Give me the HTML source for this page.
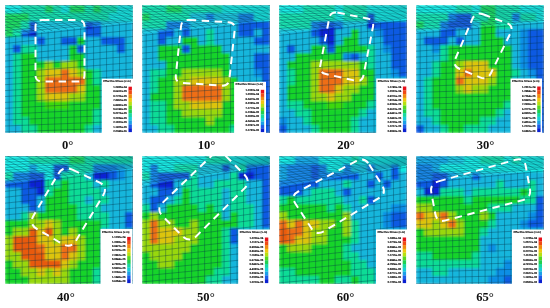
<!DOCTYPE html>
<html><head><meta charset="utf-8"><title>Effective stress contours</title>
<style>
html,body{margin:0;padding:0;background:#fff;}
body{width:550px;height:308px;position:relative;overflow:hidden;}
.pn{position:absolute;display:block;text-rendering:geometricPrecision;}
.lab{position:absolute;font-family:"Liberation Serif",serif;font-weight:bold;font-size:12.6px;line-height:13px;color:#111;text-align:center;width:60px;}
.lt{font-family:"Liberation Sans",sans-serif;font-size:2.7px;font-weight:bold;fill:#111;stroke:#111;stroke-width:0.12px;}
.lv{font-family:"Liberation Sans",sans-serif;font-size:2.7px;font-weight:bold;fill:#111;stroke:#111;stroke-width:0.12px;text-anchor:end;}
</style></head><body>
<svg width="0" height="0" style="position:absolute"><defs>
<filter id="bl" x="0" y="0" width="1" height="1"><feGaussianBlur stdDeviation="1.3" edgeMode="duplicate"/></filter>
</defs></svg>

<svg class="pn" style="left:5px;top:5px" width="128" height="128" viewBox="0 0 128 128">
<g filter="url(#bl)">
<rect x="0" y="0" width="16" height="8" fill="#0ce8e0"/>
<rect x="16" y="0" width="24" height="8" fill="#0cdc96"/>
<rect x="40" y="0" width="8" height="8" fill="#14d42c"/>
<rect x="48" y="0" width="8" height="8" fill="#0cdc96"/>
<rect x="56" y="0" width="8" height="8" fill="#0ce8e0"/>
<rect x="64" y="0" width="16" height="8" fill="#14d42c"/>
<rect x="80" y="0" width="8" height="8" fill="#0cdc96"/>
<rect x="88" y="0" width="8" height="8" fill="#14d42c"/>
<rect x="96" y="0" width="16" height="8" fill="#0cdc96"/>
<rect x="112" y="0" width="16" height="8" fill="#0ce8e0"/>
<rect x="0" y="8" width="24" height="8" fill="#14d42c"/>
<rect x="24" y="8" width="80" height="8" fill="#0cdc96"/>
<rect x="104" y="8" width="24" height="8" fill="#0ce8e0"/>
<rect x="0" y="16" width="16" height="8" fill="#14d42c"/>
<rect x="16" y="16" width="8" height="8" fill="#0cdc96"/>
<rect x="24" y="16" width="8" height="8" fill="#0a22d4"/>
<rect x="32" y="16" width="48" height="8" fill="#14b6dc"/>
<rect x="80" y="16" width="8" height="8" fill="#0a22d4"/>
<rect x="88" y="16" width="8" height="8" fill="#0c5ae2"/>
<rect x="96" y="16" width="32" height="8" fill="#14b6dc"/>
<rect x="0" y="24" width="8" height="8" fill="#14d42c"/>
<rect x="8" y="24" width="8" height="8" fill="#0cdc96"/>
<rect x="16" y="24" width="8" height="8" fill="#0c5ae2"/>
<rect x="24" y="24" width="8" height="8" fill="#0a22d4"/>
<rect x="32" y="24" width="48" height="8" fill="#14b6dc"/>
<rect x="80" y="24" width="16" height="8" fill="#0c5ae2"/>
<rect x="96" y="24" width="32" height="8" fill="#14b6dc"/>
<rect x="0" y="32" width="32" height="8" fill="#14b6dc"/>
<rect x="32" y="32" width="8" height="8" fill="#0c5ae2"/>
<rect x="40" y="32" width="16" height="8" fill="#14b6dc"/>
<rect x="56" y="32" width="16" height="8" fill="#0c5ae2"/>
<rect x="72" y="32" width="8" height="8" fill="#14d42c"/>
<rect x="80" y="32" width="16" height="8" fill="#14b6dc"/>
<rect x="96" y="32" width="24" height="8" fill="#0c5ae2"/>
<rect x="120" y="32" width="8" height="8" fill="#14b6dc"/>
<rect x="0" y="40" width="8" height="8" fill="#14b6dc"/>
<rect x="8" y="40" width="8" height="8" fill="#0c5ae2"/>
<rect x="16" y="40" width="16" height="8" fill="#0cdc96"/>
<rect x="32" y="40" width="32" height="8" fill="#14b6dc"/>
<rect x="64" y="40" width="8" height="8" fill="#14d42c"/>
<rect x="72" y="40" width="8" height="8" fill="#0c5ae2"/>
<rect x="80" y="40" width="32" height="8" fill="#14b6dc"/>
<rect x="112" y="40" width="8" height="8" fill="#0c5ae2"/>
<rect x="120" y="40" width="8" height="8" fill="#14b6dc"/>
<rect x="0" y="48" width="8" height="8" fill="#14b6dc"/>
<rect x="8" y="48" width="8" height="8" fill="#0cdc96"/>
<rect x="16" y="48" width="16" height="8" fill="#14d42c"/>
<rect x="32" y="48" width="32" height="8" fill="#14b6dc"/>
<rect x="64" y="48" width="16" height="8" fill="#14d42c"/>
<rect x="80" y="48" width="48" height="8" fill="#14b6dc"/>
<rect x="0" y="56" width="8" height="8" fill="#14b6dc"/>
<rect x="8" y="56" width="8" height="8" fill="#0cdc96"/>
<rect x="16" y="56" width="24" height="8" fill="#14d42c"/>
<rect x="40" y="56" width="8" height="8" fill="#98d810"/>
<rect x="48" y="56" width="8" height="8" fill="#14d42c"/>
<rect x="56" y="56" width="16" height="8" fill="#98d810"/>
<rect x="72" y="56" width="8" height="8" fill="#14d42c"/>
<rect x="80" y="56" width="48" height="8" fill="#14b6dc"/>
<rect x="0" y="64" width="8" height="8" fill="#14b6dc"/>
<rect x="8" y="64" width="8" height="8" fill="#0cdc96"/>
<rect x="16" y="64" width="16" height="8" fill="#14d42c"/>
<rect x="32" y="64" width="8" height="8" fill="#98d810"/>
<rect x="40" y="64" width="16" height="8" fill="#dcc40c"/>
<rect x="56" y="64" width="8" height="8" fill="#ee6e12"/>
<rect x="64" y="64" width="8" height="8" fill="#dcc40c"/>
<rect x="72" y="64" width="8" height="8" fill="#98d810"/>
<rect x="80" y="64" width="8" height="8" fill="#14d42c"/>
<rect x="88" y="64" width="8" height="8" fill="#0cdc96"/>
<rect x="96" y="64" width="32" height="8" fill="#14b6dc"/>
<rect x="0" y="72" width="8" height="8" fill="#14b6dc"/>
<rect x="8" y="72" width="8" height="8" fill="#0cdc96"/>
<rect x="16" y="72" width="16" height="8" fill="#14d42c"/>
<rect x="32" y="72" width="8" height="8" fill="#98d810"/>
<rect x="40" y="72" width="40" height="8" fill="#ee6e12"/>
<rect x="80" y="72" width="8" height="8" fill="#14d42c"/>
<rect x="88" y="72" width="8" height="8" fill="#0cdc96"/>
<rect x="96" y="72" width="32" height="8" fill="#14b6dc"/>
<rect x="0" y="80" width="8" height="8" fill="#14b6dc"/>
<rect x="8" y="80" width="8" height="8" fill="#0cdc96"/>
<rect x="16" y="80" width="16" height="8" fill="#14d42c"/>
<rect x="32" y="80" width="8" height="8" fill="#98d810"/>
<rect x="40" y="80" width="32" height="8" fill="#ee6e12"/>
<rect x="72" y="80" width="8" height="8" fill="#dcc40c"/>
<rect x="80" y="80" width="16" height="8" fill="#14d42c"/>
<rect x="96" y="80" width="32" height="8" fill="#14b6dc"/>
<rect x="0" y="88" width="8" height="8" fill="#14b6dc"/>
<rect x="8" y="88" width="8" height="8" fill="#0cdc96"/>
<rect x="16" y="88" width="16" height="8" fill="#14d42c"/>
<rect x="32" y="88" width="8" height="8" fill="#98d810"/>
<rect x="40" y="88" width="24" height="8" fill="#dcc40c"/>
<rect x="64" y="88" width="16" height="8" fill="#98d810"/>
<rect x="80" y="88" width="16" height="8" fill="#14d42c"/>
<rect x="96" y="88" width="32" height="8" fill="#14b6dc"/>
<rect x="0" y="96" width="8" height="8" fill="#14b6dc"/>
<rect x="8" y="96" width="8" height="8" fill="#0cdc96"/>
<rect x="16" y="96" width="24" height="8" fill="#14d42c"/>
<rect x="40" y="96" width="24" height="8" fill="#3cd810"/>
<rect x="64" y="96" width="32" height="8" fill="#14d42c"/>
<rect x="96" y="96" width="32" height="8" fill="#14b6dc"/>
<rect x="0" y="104" width="8" height="8" fill="#14b6dc"/>
<rect x="8" y="104" width="8" height="8" fill="#0cdc96"/>
<rect x="16" y="104" width="72" height="8" fill="#14d42c"/>
<rect x="88" y="104" width="8" height="8" fill="#0cdc96"/>
<rect x="96" y="104" width="32" height="8" fill="#14b6dc"/>
<rect x="0" y="112" width="8" height="8" fill="#14b6dc"/>
<rect x="8" y="112" width="16" height="8" fill="#0cdc96"/>
<rect x="24" y="112" width="64" height="8" fill="#14d42c"/>
<rect x="88" y="112" width="8" height="8" fill="#0cdc96"/>
<rect x="96" y="112" width="32" height="8" fill="#14b6dc"/>
<rect x="0" y="120" width="16" height="8" fill="#14b6dc"/>
<rect x="16" y="120" width="16" height="8" fill="#0cdc96"/>
<rect x="32" y="120" width="48" height="8" fill="#14d42c"/>
<rect x="80" y="120" width="8" height="8" fill="#0cdc96"/>
<rect x="88" y="120" width="40" height="8" fill="#14b6dc"/>
</g>
<clipPath id="tc0"><path d="M0 0H128V17.50L0 31.00Z"/></clipPath>
<clipPath id="fc0"><path d="M0 31.00L128 17.50V128H0Z"/></clipPath>
<rect x="0" y="0" width="128" height="128" fill="#40fff8" fill-opacity="0.28" clip-path="url(#tc0)"/>
<g stroke="#003048" stroke-opacity="0.5" stroke-width="0.7" fill="none">
<path d="M4.20 29.56V128M10.69 28.87V128M17.18 28.19V128M23.67 27.50V128M30.16 26.82V128M36.65 26.13V128M43.14 25.45V128M49.63 24.77V128M56.12 24.08V128M62.61 23.40V128M69.10 22.71V128M75.59 22.03V128M82.08 21.34V128M88.57 20.66V128M95.06 19.97V128M101.55 19.29V128M108.04 18.61V128M114.53 17.92V128M121.02 17.24V128M127.51 16.55V128M0 32.50L128 18.50M0 38.40L128 25.00M0 44.30L128 31.50M0 50.20L128 38.00M0 56.10L128 44.50M0 62.00L128 51.00M0 67.90L128 57.50M0 73.80L128 64.00M0 79.70L128 70.50M0 85.60L128 77.00M0 91.50L128 83.50M0 97.40L128 90.00M0 103.30L128 96.50M0 109.20L128 103.00M0 115.10L128 109.50M0 121.00L128 116.00M0 126.90L128 122.50M0 132.80L128 129.00" clip-path="url(#fc0)"/>
<path d="M0 28.25L128 15.95M0 25.50L128 14.40M0 22.75L128 12.84M0 20.00L128 11.29M0 17.25L128 9.74M0 14.50L128 8.19M0 11.75L128 6.63M0 9.00L128 5.08M0 6.25L128 3.53M0 3.50L128 1.98M0 0.75L128 0.42M-80.00 39.44L-150.00 4.44M-72.50 38.65L-142.50 3.65M-65.00 37.86L-135.00 2.86M-57.50 37.06L-127.50 2.06M-50.00 36.27L-120.00 1.27M-42.50 35.48L-112.50 0.48M-35.00 34.69L-105.00 -0.31M-27.50 33.90L-97.50 -1.10M-20.00 33.11L-90.00 -1.89M-12.50 32.32L-82.50 -2.68M-5.00 31.53L-75.00 -3.47M2.50 30.74L-67.50 -4.26M10.00 29.95L-60.00 -5.05M17.50 29.15L-52.50 -5.85M25.00 28.36L-45.00 -6.64M32.50 27.57L-37.50 -7.43M40.00 26.78L-30.00 -8.22M47.50 25.99L-22.50 -9.01M55.00 25.20L-15.00 -9.80M62.50 24.41L-7.50 -10.59M70.00 23.62L0.00 -11.38M77.50 22.83L7.50 -12.17M85.00 22.04L15.00 -12.96M92.50 21.24L22.50 -13.76M100.00 20.45L30.00 -14.55M107.50 19.66L37.50 -15.34M115.00 18.87L45.00 -16.13M122.50 18.08L52.50 -16.92M130.00 17.29L60.00 -17.71M137.50 16.50L67.50 -18.50M145.00 15.71L75.00 -19.29M152.50 14.92L82.50 -20.08M160.00 14.12L90.00 -20.88M167.50 13.33L97.50 -21.67" clip-path="url(#tc0)" stroke-opacity="0.6" stroke-width="0.55"/>
</g>
<path d="M37.0 15.0 L73.0 15.0 Q79.5 15.0 79.5 21.5 L79.5 70.0 Q79.5 76.5 73.0 76.5 L37.0 76.5 Q30.5 76.5 30.5 70.0 L30.5 21.5 Q30.5 15.0 37.0 15.0 Z" fill="none" stroke="#fff" stroke-width="2" stroke-dasharray="7.5 5.5"/>
<rect x="96.8" y="73.7" width="31.2" height="54.3" fill="#fff"/>
<text x="98.3" y="77.3" class="lt">Effective Stress (v-m)</text>
<text x="121.8" y="82.9" class="lv">1.2985e-04</text>
<text x="121.8" y="87.3" class="lv">9.6412e-05</text>
<text x="121.8" y="91.7" class="lv">8.7706e-05</text>
<text x="121.8" y="96.1" class="lv">7.8963e-05</text>
<text x="121.8" y="100.5" class="lv">6.9992e-05</text>
<text x="121.8" y="104.9" class="lv">5.6749e-05</text>
<text x="121.8" y="109.3" class="lv">5.0276e-05</text>
<text x="121.8" y="113.7" class="lv">3.2284e-05</text>
<text x="121.8" y="118.1" class="lv">2.1830e-05</text>
<text x="121.8" y="122.5" class="lv">1.1905e-05</text>
<text x="121.8" y="126.9" class="lv">2.0048e-06</text>
<rect x="123.5" y="81.70" width="3.4" height="3.88" fill="#e8101a"/>
<rect x="123.5" y="85.48" width="3.4" height="3.88" fill="#f04a14"/>
<rect x="123.5" y="89.25" width="3.4" height="3.88" fill="#f08a10"/>
<rect x="123.5" y="93.03" width="3.4" height="3.88" fill="#f0c810"/>
<rect x="123.5" y="96.80" width="3.4" height="3.88" fill="#b8e010"/>
<rect x="123.5" y="100.58" width="3.4" height="3.88" fill="#58d820"/>
<rect x="123.5" y="104.35" width="3.4" height="3.88" fill="#20d050"/>
<rect x="123.5" y="108.12" width="3.4" height="3.88" fill="#18d8a0"/>
<rect x="123.5" y="111.90" width="3.4" height="3.88" fill="#18d0d8"/>
<rect x="123.5" y="115.68" width="3.4" height="3.88" fill="#1aa0e8"/>
<rect x="123.5" y="119.45" width="3.4" height="3.88" fill="#1a5ee8"/>
<rect x="123.5" y="123.22" width="3.4" height="3.88" fill="#0a20d0"/>
</svg>
<svg class="pn" style="left:142px;top:5px" width="128" height="128" viewBox="0 0 128 128">
<g filter="url(#bl)">
<rect x="0" y="0" width="24" height="8" fill="#0cdc96"/>
<rect x="24" y="0" width="16" height="8" fill="#14d42c"/>
<rect x="40" y="0" width="40" height="8" fill="#0cdc96"/>
<rect x="80" y="0" width="48" height="8" fill="#0ce8e0"/>
<rect x="0" y="8" width="8" height="8" fill="#14d42c"/>
<rect x="8" y="8" width="40" height="8" fill="#0cdc96"/>
<rect x="48" y="8" width="16" height="8" fill="#14b6dc"/>
<rect x="64" y="8" width="8" height="8" fill="#0c5ae2"/>
<rect x="72" y="8" width="24" height="8" fill="#14b6dc"/>
<rect x="96" y="8" width="16" height="8" fill="#0c5ae2"/>
<rect x="112" y="8" width="16" height="8" fill="#0ce8e0"/>
<rect x="0" y="16" width="24" height="8" fill="#0cdc96"/>
<rect x="24" y="16" width="24" height="8" fill="#0c5ae2"/>
<rect x="48" y="16" width="48" height="8" fill="#14b6dc"/>
<rect x="96" y="16" width="32" height="8" fill="#0c5ae2"/>
<rect x="0" y="24" width="16" height="8" fill="#14b6dc"/>
<rect x="16" y="24" width="16" height="8" fill="#0c5ae2"/>
<rect x="32" y="24" width="8" height="8" fill="#14b6dc"/>
<rect x="40" y="24" width="8" height="8" fill="#0c5ae2"/>
<rect x="48" y="24" width="16" height="8" fill="#14b6dc"/>
<rect x="64" y="24" width="8" height="8" fill="#0cdc96"/>
<rect x="72" y="24" width="24" height="8" fill="#14b6dc"/>
<rect x="96" y="24" width="16" height="8" fill="#0c5ae2"/>
<rect x="112" y="24" width="8" height="8" fill="#14b6dc"/>
<rect x="120" y="24" width="8" height="8" fill="#0c5ae2"/>
<rect x="0" y="32" width="16" height="8" fill="#14b6dc"/>
<rect x="16" y="32" width="8" height="8" fill="#0c5ae2"/>
<rect x="24" y="32" width="16" height="8" fill="#14b6dc"/>
<rect x="40" y="32" width="16" height="8" fill="#14d42c"/>
<rect x="56" y="32" width="8" height="8" fill="#14b6dc"/>
<rect x="64" y="32" width="8" height="8" fill="#0cdc96"/>
<rect x="72" y="32" width="40" height="8" fill="#14b6dc"/>
<rect x="112" y="32" width="16" height="8" fill="#0c5ae2"/>
<rect x="0" y="40" width="16" height="8" fill="#14b6dc"/>
<rect x="16" y="40" width="24" height="8" fill="#14d42c"/>
<rect x="40" y="40" width="8" height="8" fill="#0c5ae2"/>
<rect x="48" y="40" width="32" height="8" fill="#14d42c"/>
<rect x="80" y="40" width="48" height="8" fill="#14b6dc"/>
<rect x="0" y="48" width="16" height="8" fill="#14b6dc"/>
<rect x="16" y="48" width="72" height="8" fill="#14d42c"/>
<rect x="88" y="48" width="24" height="8" fill="#14b6dc"/>
<rect x="112" y="48" width="16" height="8" fill="#0c5ae2"/>
<rect x="0" y="56" width="24" height="8" fill="#14b6dc"/>
<rect x="24" y="56" width="64" height="8" fill="#14d42c"/>
<rect x="88" y="56" width="24" height="8" fill="#14b6dc"/>
<rect x="112" y="56" width="16" height="8" fill="#0c5ae2"/>
<rect x="0" y="64" width="8" height="8" fill="#14b6dc"/>
<rect x="8" y="64" width="16" height="8" fill="#0cdc96"/>
<rect x="24" y="64" width="16" height="8" fill="#14d42c"/>
<rect x="40" y="64" width="40" height="8" fill="#98d810"/>
<rect x="80" y="64" width="8" height="8" fill="#14d42c"/>
<rect x="88" y="64" width="24" height="8" fill="#14b6dc"/>
<rect x="112" y="64" width="8" height="8" fill="#0c8ee4"/>
<rect x="120" y="64" width="8" height="8" fill="#0c5ae2"/>
<rect x="0" y="72" width="8" height="8" fill="#14b6dc"/>
<rect x="8" y="72" width="8" height="8" fill="#0cdc96"/>
<rect x="16" y="72" width="16" height="8" fill="#14d42c"/>
<rect x="32" y="72" width="16" height="8" fill="#98d810"/>
<rect x="48" y="72" width="32" height="8" fill="#dcc40c"/>
<rect x="80" y="72" width="8" height="8" fill="#98d810"/>
<rect x="88" y="72" width="8" height="8" fill="#14d42c"/>
<rect x="96" y="72" width="24" height="8" fill="#14b6dc"/>
<rect x="120" y="72" width="8" height="8" fill="#0c5ae2"/>
<rect x="0" y="80" width="8" height="8" fill="#14b6dc"/>
<rect x="8" y="80" width="8" height="8" fill="#0cdc96"/>
<rect x="16" y="80" width="16" height="8" fill="#14d42c"/>
<rect x="32" y="80" width="8" height="8" fill="#98d810"/>
<rect x="40" y="80" width="40" height="8" fill="#ee6e12"/>
<rect x="80" y="80" width="8" height="8" fill="#98d810"/>
<rect x="88" y="80" width="8" height="8" fill="#14d42c"/>
<rect x="96" y="80" width="24" height="8" fill="#14b6dc"/>
<rect x="120" y="80" width="8" height="8" fill="#0c5ae2"/>
<rect x="0" y="88" width="8" height="8" fill="#14b6dc"/>
<rect x="8" y="88" width="24" height="8" fill="#14d42c"/>
<rect x="32" y="88" width="8" height="8" fill="#98d810"/>
<rect x="40" y="88" width="40" height="8" fill="#ee6e12"/>
<rect x="80" y="88" width="8" height="8" fill="#98d810"/>
<rect x="88" y="88" width="8" height="8" fill="#14d42c"/>
<rect x="96" y="88" width="24" height="8" fill="#14b6dc"/>
<rect x="120" y="88" width="8" height="8" fill="#0c5ae2"/>
<rect x="0" y="96" width="8" height="8" fill="#14b6dc"/>
<rect x="8" y="96" width="16" height="8" fill="#0cdc96"/>
<rect x="24" y="96" width="8" height="8" fill="#14d42c"/>
<rect x="32" y="96" width="16" height="8" fill="#98d810"/>
<rect x="48" y="96" width="32" height="8" fill="#dcc40c"/>
<rect x="80" y="96" width="16" height="8" fill="#14d42c"/>
<rect x="96" y="96" width="24" height="8" fill="#14b6dc"/>
<rect x="120" y="96" width="8" height="8" fill="#0c5ae2"/>
<rect x="0" y="104" width="8" height="8" fill="#14b6dc"/>
<rect x="8" y="104" width="16" height="8" fill="#0cdc96"/>
<rect x="24" y="104" width="16" height="8" fill="#14d42c"/>
<rect x="40" y="104" width="40" height="8" fill="#98d810"/>
<rect x="80" y="104" width="16" height="8" fill="#14d42c"/>
<rect x="96" y="104" width="24" height="8" fill="#14b6dc"/>
<rect x="120" y="104" width="8" height="8" fill="#0c5ae2"/>
<rect x="0" y="112" width="8" height="8" fill="#14b6dc"/>
<rect x="8" y="112" width="16" height="8" fill="#0cdc96"/>
<rect x="24" y="112" width="40" height="8" fill="#14d42c"/>
<rect x="64" y="112" width="8" height="8" fill="#98d810"/>
<rect x="72" y="112" width="24" height="8" fill="#14d42c"/>
<rect x="96" y="112" width="24" height="8" fill="#14b6dc"/>
<rect x="120" y="112" width="8" height="8" fill="#0c5ae2"/>
<rect x="0" y="120" width="16" height="8" fill="#14b6dc"/>
<rect x="16" y="120" width="16" height="8" fill="#0cdc96"/>
<rect x="32" y="120" width="56" height="8" fill="#14d42c"/>
<rect x="88" y="120" width="8" height="8" fill="#0cdc96"/>
<rect x="96" y="120" width="24" height="8" fill="#14b6dc"/>
<rect x="120" y="120" width="8" height="8" fill="#0c5ae2"/>
</g>
<clipPath id="tc1"><path d="M0 0H128V15.60L0 29.00Z"/></clipPath>
<clipPath id="fc1"><path d="M0 29.00L128 15.60V128H0Z"/></clipPath>
<rect x="0" y="0" width="128" height="128" fill="#40fff8" fill-opacity="0.28" clip-path="url(#tc1)"/>
<g stroke="#003048" stroke-opacity="0.5" stroke-width="0.7" fill="none">
<path d="M4.20 27.56V128M10.69 26.88V128M17.18 26.20V128M23.67 25.52V128M30.16 24.84V128M36.65 24.16V128M43.14 23.48V128M49.63 22.80V128M56.12 22.12V128M62.61 21.45V128M69.10 20.77V128M75.59 20.09V128M82.08 19.41V128M88.57 18.73V128M95.06 18.05V128M101.55 17.37V128M108.04 16.69V128M114.53 16.01V128M121.02 15.33V128M127.51 14.65V128M0 30.50L128 16.60M0 36.40L128 23.10M0 42.30L128 29.60M0 48.20L128 36.10M0 54.10L128 42.60M0 60.00L128 49.10M0 65.90L128 55.60M0 71.80L128 62.10M0 77.70L128 68.60M0 83.60L128 75.10M0 89.50L128 81.60M0 95.40L128 88.10M0 101.30L128 94.60M0 107.20L128 101.10M0 113.10L128 107.60M0 119.00L128 114.10M0 124.90L128 120.60M0 130.80L128 127.10" clip-path="url(#fc1)"/>
<path d="M0 26.25L128 14.12M0 23.50L128 12.64M0 20.75L128 11.16M0 18.00L128 9.68M0 15.25L128 8.20M0 12.50L128 6.72M0 9.75L128 5.24M0 7.00L128 3.77M0 4.25L128 2.29M0 1.50L128 0.81M0 -1.25L128 -0.67M-80.00 37.38L-150.00 2.38M-72.50 36.59L-142.50 1.59M-65.00 35.80L-135.00 0.80M-57.50 35.02L-127.50 0.02M-50.00 34.23L-120.00 -0.77M-42.50 33.45L-112.50 -1.55M-35.00 32.66L-105.00 -2.34M-27.50 31.88L-97.50 -3.12M-20.00 31.09L-90.00 -3.91M-12.50 30.31L-82.50 -4.69M-5.00 29.52L-75.00 -5.48M2.50 28.74L-67.50 -6.26M10.00 27.95L-60.00 -7.05M17.50 27.17L-52.50 -7.83M25.00 26.38L-45.00 -8.62M32.50 25.60L-37.50 -9.40M40.00 24.81L-30.00 -10.19M47.50 24.03L-22.50 -10.97M55.00 23.24L-15.00 -11.76M62.50 22.46L-7.50 -12.54M70.00 21.67L0.00 -13.33M77.50 20.89L7.50 -14.11M85.00 20.10L15.00 -14.90M92.50 19.32L22.50 -15.68M100.00 18.53L30.00 -16.47M107.50 17.75L37.50 -17.25M115.00 16.96L45.00 -18.04M122.50 16.18L52.50 -18.82M130.00 15.39L60.00 -19.61M137.50 14.61L67.50 -20.39M145.00 13.82L75.00 -21.18M152.50 13.04L82.50 -21.96M160.00 12.25L90.00 -22.75M167.50 11.46L97.50 -23.54" clip-path="url(#tc1)" stroke-opacity="0.6" stroke-width="0.55"/>
</g>
<path d="M46.7 14.9 L86.4 17.2 Q93.4 17.6 92.7 24.6 L87.4 74.1 Q86.7 81.1 79.7 80.6 L40.1 77.9 Q33.1 77.4 33.8 70.4 L39.0 21.5 Q39.7 14.5 46.7 14.9 Z" fill="none" stroke="#fff" stroke-width="2" stroke-dasharray="7.5 5.5"/>
<rect x="92.1" y="76.8" width="31.9" height="51.2" fill="#fff"/>
<text x="93.6" y="80.4" class="lt">Effective Stress (v-m)</text>
<text x="117.1" y="86.0" class="lv">1.1330e-04</text>
<text x="117.1" y="90.4" class="lv">1.0308e-04</text>
<text x="117.1" y="94.8" class="lv">9.2473e-05</text>
<text x="117.1" y="99.2" class="lv">8.2085e-05</text>
<text x="117.1" y="103.6" class="lv">7.1770e-05</text>
<text x="117.1" y="108.0" class="lv">6.1384e-05</text>
<text x="117.1" y="112.4" class="lv">5.0825e-05</text>
<text x="117.1" y="116.8" class="lv">4.0414e-05</text>
<text x="117.1" y="121.2" class="lv">3.0097e-05</text>
<text x="117.1" y="125.6" class="lv">2.1783e-05</text>
<text x="117.1" y="130.0" class="lv">1.1904e-05</text>
<rect x="118.8" y="84.80" width="3.4" height="3.62" fill="#e8101a"/>
<rect x="118.8" y="88.32" width="3.4" height="3.62" fill="#f04a14"/>
<rect x="118.8" y="91.83" width="3.4" height="3.62" fill="#f08a10"/>
<rect x="118.8" y="95.35" width="3.4" height="3.62" fill="#f0c810"/>
<rect x="118.8" y="98.87" width="3.4" height="3.62" fill="#b8e010"/>
<rect x="118.8" y="102.38" width="3.4" height="3.62" fill="#58d820"/>
<rect x="118.8" y="105.90" width="3.4" height="3.62" fill="#20d050"/>
<rect x="118.8" y="109.42" width="3.4" height="3.62" fill="#18d8a0"/>
<rect x="118.8" y="112.93" width="3.4" height="3.62" fill="#18d0d8"/>
<rect x="118.8" y="116.45" width="3.4" height="3.62" fill="#1aa0e8"/>
<rect x="118.8" y="119.97" width="3.4" height="3.62" fill="#1a5ee8"/>
<rect x="118.8" y="123.48" width="3.4" height="3.62" fill="#0a20d0"/>
</svg>
<svg class="pn" style="left:279px;top:5px" width="128" height="128" viewBox="0 0 128 128">
<g filter="url(#bl)">
<rect x="0" y="0" width="24" height="8" fill="#0ce8e0"/>
<rect x="24" y="0" width="32" height="8" fill="#0cdc96"/>
<rect x="56" y="0" width="8" height="8" fill="#0ce8e0"/>
<rect x="64" y="0" width="24" height="8" fill="#0cdc96"/>
<rect x="88" y="0" width="40" height="8" fill="#0ce8e0"/>
<rect x="0" y="8" width="56" height="8" fill="#0cdc96"/>
<rect x="56" y="8" width="8" height="8" fill="#0ce8e0"/>
<rect x="64" y="8" width="24" height="8" fill="#0cdc96"/>
<rect x="88" y="8" width="8" height="8" fill="#0a22d4"/>
<rect x="96" y="8" width="32" height="8" fill="#0ce8e0"/>
<rect x="0" y="16" width="32" height="8" fill="#0cdc96"/>
<rect x="32" y="16" width="8" height="8" fill="#0c5ae2"/>
<rect x="40" y="16" width="16" height="8" fill="#0a22d4"/>
<rect x="56" y="16" width="8" height="8" fill="#0c5ae2"/>
<rect x="64" y="16" width="24" height="8" fill="#14b6dc"/>
<rect x="88" y="16" width="8" height="8" fill="#0a22d4"/>
<rect x="96" y="16" width="32" height="8" fill="#0c5ae2"/>
<rect x="0" y="24" width="32" height="8" fill="#14b6dc"/>
<rect x="32" y="24" width="8" height="8" fill="#0c5ae2"/>
<rect x="40" y="24" width="16" height="8" fill="#0a22d4"/>
<rect x="56" y="24" width="16" height="8" fill="#14b6dc"/>
<rect x="72" y="24" width="8" height="8" fill="#14d42c"/>
<rect x="80" y="24" width="16" height="8" fill="#14b6dc"/>
<rect x="96" y="24" width="8" height="8" fill="#0c8ee4"/>
<rect x="104" y="24" width="24" height="8" fill="#0c5ae2"/>
<rect x="0" y="32" width="40" height="8" fill="#14b6dc"/>
<rect x="40" y="32" width="8" height="8" fill="#0c5ae2"/>
<rect x="48" y="32" width="8" height="8" fill="#0a22d4"/>
<rect x="56" y="32" width="8" height="8" fill="#14b6dc"/>
<rect x="64" y="32" width="16" height="8" fill="#14d42c"/>
<rect x="80" y="32" width="24" height="8" fill="#14b6dc"/>
<rect x="104" y="32" width="24" height="8" fill="#0c5ae2"/>
<rect x="0" y="40" width="8" height="8" fill="#14b6dc"/>
<rect x="8" y="40" width="8" height="8" fill="#0c5ae2"/>
<rect x="16" y="40" width="16" height="8" fill="#14b6dc"/>
<rect x="32" y="40" width="16" height="8" fill="#14d42c"/>
<rect x="48" y="40" width="8" height="8" fill="#0c5ae2"/>
<rect x="56" y="40" width="32" height="8" fill="#14d42c"/>
<rect x="88" y="40" width="8" height="8" fill="#0cdc96"/>
<rect x="96" y="40" width="8" height="8" fill="#14b6dc"/>
<rect x="104" y="40" width="8" height="8" fill="#0c8ee4"/>
<rect x="112" y="40" width="16" height="8" fill="#0c5ae2"/>
<rect x="0" y="48" width="16" height="8" fill="#14b6dc"/>
<rect x="16" y="48" width="48" height="8" fill="#14d42c"/>
<rect x="64" y="48" width="8" height="8" fill="#0c8ee4"/>
<rect x="72" y="48" width="8" height="8" fill="#0c5ae2"/>
<rect x="80" y="48" width="8" height="8" fill="#14b6dc"/>
<rect x="88" y="48" width="8" height="8" fill="#0cdc96"/>
<rect x="96" y="48" width="16" height="8" fill="#14b6dc"/>
<rect x="112" y="48" width="16" height="8" fill="#0c5ae2"/>
<rect x="0" y="56" width="8" height="8" fill="#14b6dc"/>
<rect x="8" y="56" width="24" height="8" fill="#14d42c"/>
<rect x="32" y="56" width="48" height="8" fill="#98d810"/>
<rect x="80" y="56" width="8" height="8" fill="#14d42c"/>
<rect x="88" y="56" width="8" height="8" fill="#0cdc96"/>
<rect x="96" y="56" width="16" height="8" fill="#14b6dc"/>
<rect x="112" y="56" width="16" height="8" fill="#0c5ae2"/>
<rect x="0" y="64" width="8" height="8" fill="#14b6dc"/>
<rect x="8" y="64" width="8" height="8" fill="#0cdc96"/>
<rect x="16" y="64" width="16" height="8" fill="#14d42c"/>
<rect x="32" y="64" width="8" height="8" fill="#98d810"/>
<rect x="40" y="64" width="24" height="8" fill="#ee6e12"/>
<rect x="64" y="64" width="16" height="8" fill="#dcc40c"/>
<rect x="80" y="64" width="16" height="8" fill="#14d42c"/>
<rect x="96" y="64" width="16" height="8" fill="#14b6dc"/>
<rect x="112" y="64" width="8" height="8" fill="#0c8ee4"/>
<rect x="120" y="64" width="8" height="8" fill="#0c5ae2"/>
<rect x="0" y="72" width="8" height="8" fill="#14b6dc"/>
<rect x="8" y="72" width="8" height="8" fill="#0cdc96"/>
<rect x="16" y="72" width="16" height="8" fill="#14d42c"/>
<rect x="32" y="72" width="8" height="8" fill="#98d810"/>
<rect x="40" y="72" width="24" height="8" fill="#ee6e12"/>
<rect x="64" y="72" width="16" height="8" fill="#dcc40c"/>
<rect x="80" y="72" width="8" height="8" fill="#98d810"/>
<rect x="88" y="72" width="8" height="8" fill="#14d42c"/>
<rect x="96" y="72" width="32" height="8" fill="#14b6dc"/>
<rect x="0" y="80" width="8" height="8" fill="#14b6dc"/>
<rect x="8" y="80" width="24" height="8" fill="#14d42c"/>
<rect x="32" y="80" width="8" height="8" fill="#98d810"/>
<rect x="40" y="80" width="16" height="8" fill="#ee6e12"/>
<rect x="56" y="80" width="8" height="8" fill="#dcc40c"/>
<rect x="64" y="80" width="16" height="8" fill="#98d810"/>
<rect x="80" y="80" width="16" height="8" fill="#14d42c"/>
<rect x="96" y="80" width="32" height="8" fill="#14b6dc"/>
<rect x="0" y="88" width="8" height="8" fill="#14b6dc"/>
<rect x="8" y="88" width="24" height="8" fill="#14d42c"/>
<rect x="32" y="88" width="16" height="8" fill="#98d810"/>
<rect x="48" y="88" width="8" height="8" fill="#dcc40c"/>
<rect x="56" y="88" width="16" height="8" fill="#98d810"/>
<rect x="72" y="88" width="24" height="8" fill="#14d42c"/>
<rect x="96" y="88" width="32" height="8" fill="#14b6dc"/>
<rect x="0" y="96" width="8" height="8" fill="#14b6dc"/>
<rect x="8" y="96" width="16" height="8" fill="#0cdc96"/>
<rect x="24" y="96" width="24" height="8" fill="#14d42c"/>
<rect x="48" y="96" width="16" height="8" fill="#3cd810"/>
<rect x="64" y="96" width="24" height="8" fill="#14d42c"/>
<rect x="88" y="96" width="8" height="8" fill="#0cdc96"/>
<rect x="96" y="96" width="32" height="8" fill="#14b6dc"/>
<rect x="0" y="104" width="16" height="8" fill="#14b6dc"/>
<rect x="16" y="104" width="16" height="8" fill="#0cdc96"/>
<rect x="32" y="104" width="48" height="8" fill="#14d42c"/>
<rect x="80" y="104" width="8" height="8" fill="#0cdc96"/>
<rect x="88" y="104" width="40" height="8" fill="#14b6dc"/>
<rect x="0" y="112" width="8" height="8" fill="#0c8ee4"/>
<rect x="8" y="112" width="16" height="8" fill="#14b6dc"/>
<rect x="24" y="112" width="8" height="8" fill="#0cdc96"/>
<rect x="32" y="112" width="40" height="8" fill="#14d42c"/>
<rect x="72" y="112" width="8" height="8" fill="#0cdc96"/>
<rect x="80" y="112" width="48" height="8" fill="#14b6dc"/>
<rect x="0" y="120" width="8" height="8" fill="#0c5ae2"/>
<rect x="8" y="120" width="24" height="8" fill="#14b6dc"/>
<rect x="32" y="120" width="8" height="8" fill="#0cdc96"/>
<rect x="40" y="120" width="32" height="8" fill="#14d42c"/>
<rect x="72" y="120" width="8" height="8" fill="#0cdc96"/>
<rect x="80" y="120" width="48" height="8" fill="#14b6dc"/>
</g>
<clipPath id="tc2"><path d="M0 0H128V14.50L0 29.00Z"/></clipPath>
<clipPath id="fc2"><path d="M0 29.00L128 14.50V128H0Z"/></clipPath>
<rect x="0" y="0" width="128" height="128" fill="#40fff8" fill-opacity="0.28" clip-path="url(#tc2)"/>
<g stroke="#003048" stroke-opacity="0.5" stroke-width="0.7" fill="none">
<path d="M4.20 27.52V128M10.69 26.79V128M17.18 26.05V128M23.67 25.32V128M30.16 24.58V128M36.65 23.85V128M43.14 23.11V128M49.63 22.38V128M56.12 21.64V128M62.61 20.91V128M69.10 20.17V128M75.59 19.44V128M82.08 18.70V128M88.57 17.97V128M95.06 17.23V128M101.55 16.50V128M108.04 15.76V128M114.53 15.03V128M121.02 14.29V128M127.51 13.56V128M0 30.50L128 15.50M0 36.40L128 22.00M0 42.30L128 28.50M0 48.20L128 35.00M0 54.10L128 41.50M0 60.00L128 48.00M0 65.90L128 54.50M0 71.80L128 61.00M0 77.70L128 67.50M0 83.60L128 74.00M0 89.50L128 80.50M0 95.40L128 87.00M0 101.30L128 93.50M0 107.20L128 100.00M0 113.10L128 106.50M0 119.00L128 113.00M0 124.90L128 119.50M0 130.80L128 126.00" clip-path="url(#fc2)"/>
<path d="M0 26.25L128 13.12M0 23.50L128 11.75M0 20.75L128 10.38M0 18.00L128 9.00M0 15.25L128 7.62M0 12.50L128 6.25M0 9.75L128 4.88M0 7.00L128 3.50M0 4.25L128 2.12M0 1.50L128 0.75M0 -1.25L128 -0.62M-80.00 38.06L-150.00 3.06M-72.50 37.21L-142.50 2.21M-65.00 36.36L-135.00 1.36M-57.50 35.51L-127.50 0.51M-50.00 34.66L-120.00 -0.34M-42.50 33.81L-112.50 -1.19M-35.00 32.96L-105.00 -2.04M-27.50 32.12L-97.50 -2.88M-20.00 31.27L-90.00 -3.73M-12.50 30.42L-82.50 -4.58M-5.00 29.57L-75.00 -5.43M2.50 28.72L-67.50 -6.28M10.00 27.87L-60.00 -7.13M17.50 27.02L-52.50 -7.98M25.00 26.17L-45.00 -8.83M32.50 25.32L-37.50 -9.68M40.00 24.47L-30.00 -10.53M47.50 23.62L-22.50 -11.38M55.00 22.77L-15.00 -12.23M62.50 21.92L-7.50 -13.08M70.00 21.07L0.00 -13.93M77.50 20.22L7.50 -14.78M85.00 19.37L15.00 -15.63M92.50 18.52L22.50 -16.48M100.00 17.67L30.00 -17.33M107.50 16.82L37.50 -18.18M115.00 15.97L45.00 -19.03M122.50 15.12L52.50 -19.88M130.00 14.27L60.00 -20.73M137.50 13.42L67.50 -21.58M145.00 12.57L75.00 -22.43M152.50 11.72L82.50 -23.28M160.00 10.88L90.00 -24.12M167.50 10.03L97.50 -24.97" clip-path="url(#tc2)" stroke-opacity="0.6" stroke-width="0.55"/>
</g>
<path d="M58.4 7.6 L88.4 13.5 Q95.3 14.8 94.0 21.7 L84.5 70.3 Q83.2 77.2 76.4 75.7 L46.8 69.0 Q40.0 67.5 41.3 60.6 L50.2 13.2 Q51.5 6.3 58.4 7.6 Z" fill="none" stroke="#fff" stroke-width="2" stroke-dasharray="7.5 5.5"/>
<rect x="97.2" y="73.5" width="30.8" height="54.5" fill="#fff"/>
<text x="98.7" y="77.1" class="lt">Effective Stress (v-m)</text>
<text x="122.2" y="82.7" class="lv">1.1745e-04</text>
<text x="122.2" y="87.1" class="lv">1.0320e-04</text>
<text x="122.2" y="91.5" class="lv">8.9076e-05</text>
<text x="122.2" y="95.9" class="lv">7.8014e-05</text>
<text x="122.2" y="100.3" class="lv">6.8069e-05</text>
<text x="122.2" y="104.7" class="lv">5.6613e-05</text>
<text x="122.2" y="109.1" class="lv">4.6461e-05</text>
<text x="122.2" y="113.5" class="lv">3.2460e-05</text>
<text x="122.2" y="117.9" class="lv">2.3215e-05</text>
<text x="122.2" y="122.3" class="lv">1.1217e-05</text>
<text x="122.2" y="126.7" class="lv">3.8868e-06</text>
<rect x="123.9" y="81.50" width="3.4" height="3.89" fill="#e8101a"/>
<rect x="123.9" y="85.29" width="3.4" height="3.89" fill="#f04a14"/>
<rect x="123.9" y="89.08" width="3.4" height="3.89" fill="#f08a10"/>
<rect x="123.9" y="92.88" width="3.4" height="3.89" fill="#f0c810"/>
<rect x="123.9" y="96.67" width="3.4" height="3.89" fill="#b8e010"/>
<rect x="123.9" y="100.46" width="3.4" height="3.89" fill="#58d820"/>
<rect x="123.9" y="104.25" width="3.4" height="3.89" fill="#20d050"/>
<rect x="123.9" y="108.04" width="3.4" height="3.89" fill="#18d8a0"/>
<rect x="123.9" y="111.83" width="3.4" height="3.89" fill="#18d0d8"/>
<rect x="123.9" y="115.62" width="3.4" height="3.89" fill="#1aa0e8"/>
<rect x="123.9" y="119.42" width="3.4" height="3.89" fill="#1a5ee8"/>
<rect x="123.9" y="123.21" width="3.4" height="3.89" fill="#0a20d0"/>
</svg>
<svg class="pn" style="left:416px;top:5px" width="128" height="128" viewBox="0 0 128 128">
<g filter="url(#bl)">
<rect x="0" y="0" width="40" height="8" fill="#0ce8e0"/>
<rect x="40" y="0" width="16" height="8" fill="#0cdc96"/>
<rect x="56" y="0" width="8" height="8" fill="#0ce8e0"/>
<rect x="64" y="0" width="16" height="8" fill="#14d42c"/>
<rect x="80" y="0" width="24" height="8" fill="#0cdc96"/>
<rect x="104" y="0" width="24" height="8" fill="#0ce8e0"/>
<rect x="0" y="8" width="32" height="8" fill="#0cdc96"/>
<rect x="32" y="8" width="8" height="8" fill="#0c5ae2"/>
<rect x="40" y="8" width="16" height="8" fill="#0a22d4"/>
<rect x="56" y="8" width="16" height="8" fill="#0cdc96"/>
<rect x="72" y="8" width="8" height="8" fill="#14d42c"/>
<rect x="80" y="8" width="16" height="8" fill="#0cdc96"/>
<rect x="96" y="8" width="8" height="8" fill="#0c5ae2"/>
<rect x="104" y="8" width="16" height="8" fill="#0cdc96"/>
<rect x="120" y="8" width="8" height="8" fill="#0ce8e0"/>
<rect x="0" y="16" width="8" height="8" fill="#14d42c"/>
<rect x="8" y="16" width="16" height="8" fill="#0cdc96"/>
<rect x="24" y="16" width="8" height="8" fill="#0c5ae2"/>
<rect x="32" y="16" width="24" height="8" fill="#0a22d4"/>
<rect x="56" y="16" width="8" height="8" fill="#14b6dc"/>
<rect x="64" y="16" width="16" height="8" fill="#14d42c"/>
<rect x="80" y="16" width="16" height="8" fill="#0cdc96"/>
<rect x="96" y="16" width="32" height="8" fill="#14b6dc"/>
<rect x="0" y="24" width="24" height="8" fill="#14b6dc"/>
<rect x="24" y="24" width="16" height="8" fill="#0c5ae2"/>
<rect x="40" y="24" width="24" height="8" fill="#14b6dc"/>
<rect x="64" y="24" width="16" height="8" fill="#14d42c"/>
<rect x="80" y="24" width="24" height="8" fill="#14b6dc"/>
<rect x="104" y="24" width="8" height="8" fill="#0c8ee4"/>
<rect x="112" y="24" width="16" height="8" fill="#0c5ae2"/>
<rect x="0" y="32" width="8" height="8" fill="#14b6dc"/>
<rect x="8" y="32" width="24" height="8" fill="#0c5ae2"/>
<rect x="32" y="32" width="8" height="8" fill="#14b6dc"/>
<rect x="40" y="32" width="8" height="8" fill="#0c5ae2"/>
<rect x="48" y="32" width="16" height="8" fill="#14b6dc"/>
<rect x="64" y="32" width="24" height="8" fill="#14d42c"/>
<rect x="88" y="32" width="16" height="8" fill="#14b6dc"/>
<rect x="104" y="32" width="8" height="8" fill="#0c8ee4"/>
<rect x="112" y="32" width="16" height="8" fill="#0c5ae2"/>
<rect x="0" y="40" width="16" height="8" fill="#14b6dc"/>
<rect x="16" y="40" width="8" height="8" fill="#0c8ee4"/>
<rect x="24" y="40" width="8" height="8" fill="#0cdc96"/>
<rect x="32" y="40" width="64" height="8" fill="#14d42c"/>
<rect x="96" y="40" width="8" height="8" fill="#14b6dc"/>
<rect x="104" y="40" width="8" height="8" fill="#0c8ee4"/>
<rect x="112" y="40" width="16" height="8" fill="#0c5ae2"/>
<rect x="0" y="48" width="24" height="8" fill="#14b6dc"/>
<rect x="24" y="48" width="8" height="8" fill="#0cdc96"/>
<rect x="32" y="48" width="64" height="8" fill="#14d42c"/>
<rect x="96" y="48" width="8" height="8" fill="#14b6dc"/>
<rect x="104" y="48" width="8" height="8" fill="#0c8ee4"/>
<rect x="112" y="48" width="16" height="8" fill="#0c5ae2"/>
<rect x="0" y="56" width="16" height="8" fill="#14b6dc"/>
<rect x="16" y="56" width="8" height="8" fill="#0cdc96"/>
<rect x="24" y="56" width="16" height="8" fill="#14d42c"/>
<rect x="40" y="56" width="8" height="8" fill="#98d810"/>
<rect x="48" y="56" width="24" height="8" fill="#dcc40c"/>
<rect x="72" y="56" width="24" height="8" fill="#14d42c"/>
<rect x="96" y="56" width="8" height="8" fill="#14b6dc"/>
<rect x="104" y="56" width="8" height="8" fill="#0c8ee4"/>
<rect x="112" y="56" width="16" height="8" fill="#0c5ae2"/>
<rect x="0" y="64" width="16" height="8" fill="#14b6dc"/>
<rect x="16" y="64" width="8" height="8" fill="#0cdc96"/>
<rect x="24" y="64" width="16" height="8" fill="#14d42c"/>
<rect x="40" y="64" width="8" height="8" fill="#dcc40c"/>
<rect x="48" y="64" width="8" height="8" fill="#ee6e12"/>
<rect x="56" y="64" width="24" height="8" fill="#dcc40c"/>
<rect x="80" y="64" width="16" height="8" fill="#14d42c"/>
<rect x="96" y="64" width="8" height="8" fill="#0cdc96"/>
<rect x="104" y="64" width="8" height="8" fill="#14b6dc"/>
<rect x="112" y="64" width="8" height="8" fill="#0c8ee4"/>
<rect x="120" y="64" width="8" height="8" fill="#0c5ae2"/>
<rect x="0" y="72" width="8" height="8" fill="#14b6dc"/>
<rect x="8" y="72" width="8" height="8" fill="#0cdc96"/>
<rect x="16" y="72" width="24" height="8" fill="#14d42c"/>
<rect x="40" y="72" width="8" height="8" fill="#ee6e12"/>
<rect x="48" y="72" width="24" height="8" fill="#dcc40c"/>
<rect x="72" y="72" width="8" height="8" fill="#98d810"/>
<rect x="80" y="72" width="16" height="8" fill="#14d42c"/>
<rect x="96" y="72" width="24" height="8" fill="#14b6dc"/>
<rect x="120" y="72" width="8" height="8" fill="#0c5ae2"/>
<rect x="0" y="80" width="8" height="8" fill="#14b6dc"/>
<rect x="8" y="80" width="8" height="8" fill="#0cdc96"/>
<rect x="16" y="80" width="24" height="8" fill="#14d42c"/>
<rect x="40" y="80" width="8" height="8" fill="#98d810"/>
<rect x="48" y="80" width="8" height="8" fill="#dcc40c"/>
<rect x="56" y="80" width="16" height="8" fill="#98d810"/>
<rect x="72" y="80" width="24" height="8" fill="#14d42c"/>
<rect x="96" y="80" width="24" height="8" fill="#14b6dc"/>
<rect x="120" y="80" width="8" height="8" fill="#0c5ae2"/>
<rect x="0" y="88" width="8" height="8" fill="#14b6dc"/>
<rect x="8" y="88" width="8" height="8" fill="#0cdc96"/>
<rect x="16" y="88" width="80" height="8" fill="#14d42c"/>
<rect x="96" y="88" width="24" height="8" fill="#14b6dc"/>
<rect x="120" y="88" width="8" height="8" fill="#0c5ae2"/>
<rect x="0" y="96" width="8" height="8" fill="#14b6dc"/>
<rect x="8" y="96" width="8" height="8" fill="#0cdc96"/>
<rect x="16" y="96" width="72" height="8" fill="#14d42c"/>
<rect x="88" y="96" width="8" height="8" fill="#0cdc96"/>
<rect x="96" y="96" width="24" height="8" fill="#14b6dc"/>
<rect x="120" y="96" width="8" height="8" fill="#0c5ae2"/>
<rect x="0" y="104" width="8" height="8" fill="#14b6dc"/>
<rect x="8" y="104" width="16" height="8" fill="#0cdc96"/>
<rect x="24" y="104" width="56" height="8" fill="#14d42c"/>
<rect x="80" y="104" width="8" height="8" fill="#0cdc96"/>
<rect x="88" y="104" width="32" height="8" fill="#14b6dc"/>
<rect x="120" y="104" width="8" height="8" fill="#0c5ae2"/>
<rect x="0" y="112" width="16" height="8" fill="#14b6dc"/>
<rect x="16" y="112" width="8" height="8" fill="#0cdc96"/>
<rect x="24" y="112" width="40" height="8" fill="#14d42c"/>
<rect x="64" y="112" width="16" height="8" fill="#0cdc96"/>
<rect x="80" y="112" width="40" height="8" fill="#14b6dc"/>
<rect x="120" y="112" width="8" height="8" fill="#0c5ae2"/>
<rect x="0" y="120" width="8" height="8" fill="#0c5ae2"/>
<rect x="8" y="120" width="16" height="8" fill="#14b6dc"/>
<rect x="24" y="120" width="8" height="8" fill="#0cdc96"/>
<rect x="32" y="120" width="16" height="8" fill="#14d42c"/>
<rect x="48" y="120" width="24" height="8" fill="#0cdc96"/>
<rect x="72" y="120" width="48" height="8" fill="#14b6dc"/>
<rect x="120" y="120" width="8" height="8" fill="#0c5ae2"/>
</g>
<clipPath id="tc3"><path d="M0 0H128V17.00L0 27.00Z"/></clipPath>
<clipPath id="fc3"><path d="M0 27.00L128 17.00V128H0Z"/></clipPath>
<rect x="0" y="0" width="128" height="128" fill="#40fff8" fill-opacity="0.28" clip-path="url(#tc3)"/>
<g stroke="#003048" stroke-opacity="0.5" stroke-width="0.7" fill="none">
<path d="M4.20 25.67V128M10.69 25.16V128M17.18 24.66V128M23.67 24.15V128M30.16 23.64V128M36.65 23.14V128M43.14 22.63V128M49.63 22.12V128M56.12 21.62V128M62.61 21.11V128M69.10 20.60V128M75.59 20.09V128M82.08 19.59V128M88.57 19.08V128M95.06 18.57V128M101.55 18.07V128M108.04 17.56V128M114.53 17.05V128M121.02 16.55V128M127.51 16.04V128M0 28.50L128 18.00M0 34.40L128 24.50M0 40.30L128 31.00M0 46.20L128 37.50M0 52.10L128 44.00M0 58.00L128 50.50M0 63.90L128 57.00M0 69.80L128 63.50M0 75.70L128 70.00M0 81.60L128 76.50M0 87.50L128 83.00M0 93.40L128 89.50M0 99.30L128 96.00M0 105.20L128 102.50M0 111.10L128 109.00M0 117.00L128 115.50M0 122.90L128 122.00M0 128.80L128 128.50" clip-path="url(#fc3)"/>
<path d="M0 24.25L128 15.27M0 21.50L128 13.54M0 18.75L128 11.81M0 16.00L128 10.07M0 13.25L128 8.34M0 10.50L128 6.61M0 7.75L128 4.88M0 5.00L128 3.15M0 2.25L128 1.42M0 -0.50L128 -0.31M-80.00 33.25L-150.00 -1.75M-72.50 32.66L-142.50 -2.34M-65.00 32.08L-135.00 -2.92M-57.50 31.49L-127.50 -3.51M-50.00 30.91L-120.00 -4.09M-42.50 30.32L-112.50 -4.68M-35.00 29.73L-105.00 -5.27M-27.50 29.15L-97.50 -5.85M-20.00 28.56L-90.00 -6.44M-12.50 27.98L-82.50 -7.02M-5.00 27.39L-75.00 -7.61M2.50 26.80L-67.50 -8.20M10.00 26.22L-60.00 -8.78M17.50 25.63L-52.50 -9.37M25.00 25.05L-45.00 -9.95M32.50 24.46L-37.50 -10.54M40.00 23.88L-30.00 -11.12M47.50 23.29L-22.50 -11.71M55.00 22.70L-15.00 -12.30M62.50 22.12L-7.50 -12.88M70.00 21.53L0.00 -13.47M77.50 20.95L7.50 -14.05M85.00 20.36L15.00 -14.64M92.50 19.77L22.50 -15.23M100.00 19.19L30.00 -15.81M107.50 18.60L37.50 -16.40M115.00 18.02L45.00 -16.98M122.50 17.43L52.50 -17.57M130.00 16.84L60.00 -18.16M137.50 16.26L67.50 -18.74M145.00 15.67L75.00 -19.33M152.50 15.09L82.50 -19.91M160.00 14.50L90.00 -20.50M167.50 13.91L97.50 -21.09" clip-path="url(#tc3)" stroke-opacity="0.6" stroke-width="0.55"/>
</g>
<path d="M67.0 9.3 L90.5 18.0 Q98.0 20.8 94.5 28.0 L74.9 68.2 Q71.4 75.4 64.0 72.3 L43.8 64.0 Q36.4 60.9 39.5 53.5 L56.4 13.9 Q59.5 6.5 67.0 9.3 Z" fill="none" stroke="#fff" stroke-width="2" stroke-dasharray="7.5 5.5"/>
<rect x="94.5" y="73.5" width="31.5" height="54.5" fill="#fff"/>
<text x="96.0" y="77.1" class="lt">Effective Stress (v-m)</text>
<text x="119.5" y="82.7" class="lv">1.2312e-04</text>
<text x="119.5" y="87.1" class="lv">1.0984e-04</text>
<text x="119.5" y="91.5" class="lv">9.7264e-05</text>
<text x="119.5" y="95.9" class="lv">8.5690e-05</text>
<text x="119.5" y="100.3" class="lv">7.2606e-05</text>
<text x="119.5" y="104.7" class="lv">6.0772e-05</text>
<text x="119.5" y="109.1" class="lv">4.8630e-05</text>
<text x="119.5" y="113.5" class="lv">3.6477e-05</text>
<text x="119.5" y="117.9" class="lv">2.4316e-05</text>
<text x="119.5" y="122.3" class="lv">1.2176e-05</text>
<text x="119.5" y="126.7" class="lv">3.6860e-08</text>
<rect x="121.2" y="81.50" width="3.4" height="3.89" fill="#e8101a"/>
<rect x="121.2" y="85.29" width="3.4" height="3.89" fill="#f04a14"/>
<rect x="121.2" y="89.08" width="3.4" height="3.89" fill="#f08a10"/>
<rect x="121.2" y="92.88" width="3.4" height="3.89" fill="#f0c810"/>
<rect x="121.2" y="96.67" width="3.4" height="3.89" fill="#b8e010"/>
<rect x="121.2" y="100.46" width="3.4" height="3.89" fill="#58d820"/>
<rect x="121.2" y="104.25" width="3.4" height="3.89" fill="#20d050"/>
<rect x="121.2" y="108.04" width="3.4" height="3.89" fill="#18d8a0"/>
<rect x="121.2" y="111.83" width="3.4" height="3.89" fill="#18d0d8"/>
<rect x="121.2" y="115.62" width="3.4" height="3.89" fill="#1aa0e8"/>
<rect x="121.2" y="119.42" width="3.4" height="3.89" fill="#1a5ee8"/>
<rect x="121.2" y="123.21" width="3.4" height="3.89" fill="#0a20d0"/>
</svg>
<svg class="pn" style="left:5px;top:156px" width="128" height="128" viewBox="0 0 128 128">
<g filter="url(#bl)">
<rect x="0" y="0" width="24" height="8" fill="#0ce8e0"/>
<rect x="24" y="0" width="40" height="8" fill="#0cdc96"/>
<rect x="64" y="0" width="16" height="8" fill="#14d42c"/>
<rect x="80" y="0" width="48" height="8" fill="#0cdc96"/>
<rect x="0" y="8" width="24" height="8" fill="#0ce8e0"/>
<rect x="24" y="8" width="8" height="8" fill="#0c8ee4"/>
<rect x="32" y="8" width="16" height="8" fill="#0ce8e0"/>
<rect x="48" y="8" width="16" height="8" fill="#0a22d4"/>
<rect x="64" y="8" width="24" height="8" fill="#0cdc96"/>
<rect x="88" y="8" width="24" height="8" fill="#0c5ae2"/>
<rect x="112" y="8" width="8" height="8" fill="#0c8ee4"/>
<rect x="120" y="8" width="8" height="8" fill="#14b6dc"/>
<rect x="0" y="16" width="8" height="8" fill="#0cdc96"/>
<rect x="8" y="16" width="16" height="8" fill="#0c5ae2"/>
<rect x="24" y="16" width="16" height="8" fill="#0a22d4"/>
<rect x="40" y="16" width="8" height="8" fill="#0ce8e0"/>
<rect x="48" y="16" width="8" height="8" fill="#0a22d4"/>
<rect x="56" y="16" width="24" height="8" fill="#0cdc96"/>
<rect x="80" y="16" width="8" height="8" fill="#14b6dc"/>
<rect x="88" y="16" width="16" height="8" fill="#0a22d4"/>
<rect x="104" y="16" width="8" height="8" fill="#0c5ae2"/>
<rect x="112" y="16" width="8" height="8" fill="#0c8ee4"/>
<rect x="120" y="16" width="8" height="8" fill="#14b6dc"/>
<rect x="0" y="24" width="24" height="8" fill="#0c5ae2"/>
<rect x="24" y="24" width="16" height="8" fill="#0a22d4"/>
<rect x="40" y="24" width="16" height="8" fill="#0cdc96"/>
<rect x="56" y="24" width="8" height="8" fill="#14d42c"/>
<rect x="64" y="24" width="24" height="8" fill="#0cdc96"/>
<rect x="88" y="24" width="8" height="8" fill="#14b6dc"/>
<rect x="96" y="24" width="8" height="8" fill="#0cdc96"/>
<rect x="104" y="24" width="24" height="8" fill="#14b6dc"/>
<rect x="0" y="32" width="16" height="8" fill="#14b6dc"/>
<rect x="16" y="32" width="16" height="8" fill="#0c5ae2"/>
<rect x="32" y="32" width="8" height="8" fill="#0a22d4"/>
<rect x="40" y="32" width="8" height="8" fill="#0cdc96"/>
<rect x="48" y="32" width="16" height="8" fill="#14d42c"/>
<rect x="64" y="32" width="32" height="8" fill="#0cdc96"/>
<rect x="96" y="32" width="32" height="8" fill="#14b6dc"/>
<rect x="0" y="40" width="16" height="8" fill="#14b6dc"/>
<rect x="16" y="40" width="16" height="8" fill="#0c5ae2"/>
<rect x="32" y="40" width="8" height="8" fill="#14b6dc"/>
<rect x="40" y="40" width="24" height="8" fill="#14d42c"/>
<rect x="64" y="40" width="16" height="8" fill="#0cdc96"/>
<rect x="80" y="40" width="8" height="8" fill="#14b6dc"/>
<rect x="88" y="40" width="16" height="8" fill="#0cdc96"/>
<rect x="104" y="40" width="24" height="8" fill="#14b6dc"/>
<rect x="0" y="48" width="24" height="8" fill="#14b6dc"/>
<rect x="24" y="48" width="8" height="8" fill="#0c5ae2"/>
<rect x="32" y="48" width="8" height="8" fill="#14b6dc"/>
<rect x="40" y="48" width="32" height="8" fill="#14d42c"/>
<rect x="72" y="48" width="24" height="8" fill="#0cdc96"/>
<rect x="96" y="48" width="32" height="8" fill="#14b6dc"/>
<rect x="0" y="56" width="16" height="8" fill="#14b6dc"/>
<rect x="16" y="56" width="8" height="8" fill="#0cdc96"/>
<rect x="24" y="56" width="8" height="8" fill="#98d810"/>
<rect x="32" y="56" width="40" height="8" fill="#14d42c"/>
<rect x="72" y="56" width="32" height="8" fill="#0cdc96"/>
<rect x="104" y="56" width="16" height="8" fill="#14b6dc"/>
<rect x="120" y="56" width="8" height="8" fill="#0c5ae2"/>
<rect x="0" y="64" width="24" height="8" fill="#14d42c"/>
<rect x="24" y="64" width="16" height="8" fill="#98d810"/>
<rect x="40" y="64" width="8" height="8" fill="#dcc40c"/>
<rect x="48" y="64" width="8" height="8" fill="#98d810"/>
<rect x="56" y="64" width="40" height="8" fill="#14d42c"/>
<rect x="96" y="64" width="8" height="8" fill="#0cdc96"/>
<rect x="104" y="64" width="16" height="8" fill="#14b6dc"/>
<rect x="120" y="64" width="8" height="8" fill="#0c5ae2"/>
<rect x="0" y="72" width="8" height="8" fill="#14d42c"/>
<rect x="8" y="72" width="16" height="8" fill="#98d810"/>
<rect x="24" y="72" width="8" height="8" fill="#e85a10"/>
<rect x="32" y="72" width="8" height="8" fill="#dcc40c"/>
<rect x="40" y="72" width="8" height="8" fill="#e85a10"/>
<rect x="48" y="72" width="8" height="8" fill="#98d810"/>
<rect x="56" y="72" width="8" height="8" fill="#14d42c"/>
<rect x="64" y="72" width="8" height="8" fill="#98d810"/>
<rect x="72" y="72" width="24" height="8" fill="#14d42c"/>
<rect x="96" y="72" width="32" height="8" fill="#14b6dc"/>
<rect x="0" y="80" width="8" height="8" fill="#98d810"/>
<rect x="8" y="80" width="24" height="8" fill="#e85a10"/>
<rect x="32" y="80" width="16" height="8" fill="#dcc40c"/>
<rect x="48" y="80" width="8" height="8" fill="#98d810"/>
<rect x="56" y="80" width="16" height="8" fill="#dcc40c"/>
<rect x="72" y="80" width="8" height="8" fill="#98d810"/>
<rect x="80" y="80" width="16" height="8" fill="#14d42c"/>
<rect x="96" y="80" width="32" height="8" fill="#14b6dc"/>
<rect x="0" y="88" width="8" height="8" fill="#98d810"/>
<rect x="8" y="88" width="24" height="8" fill="#e85a10"/>
<rect x="32" y="88" width="8" height="8" fill="#ee6e12"/>
<rect x="40" y="88" width="16" height="8" fill="#dcc40c"/>
<rect x="56" y="88" width="16" height="8" fill="#ee6e12"/>
<rect x="72" y="88" width="8" height="8" fill="#98d810"/>
<rect x="80" y="88" width="16" height="8" fill="#14d42c"/>
<rect x="96" y="88" width="32" height="8" fill="#14b6dc"/>
<rect x="0" y="96" width="16" height="8" fill="#98d810"/>
<rect x="16" y="96" width="24" height="8" fill="#e85a10"/>
<rect x="40" y="96" width="16" height="8" fill="#dcc40c"/>
<rect x="56" y="96" width="8" height="8" fill="#ee6e12"/>
<rect x="64" y="96" width="8" height="8" fill="#dcc40c"/>
<rect x="72" y="96" width="8" height="8" fill="#98d810"/>
<rect x="80" y="96" width="16" height="8" fill="#14d42c"/>
<rect x="96" y="96" width="32" height="8" fill="#14b6dc"/>
<rect x="0" y="104" width="8" height="8" fill="#14d42c"/>
<rect x="8" y="104" width="16" height="8" fill="#98d810"/>
<rect x="24" y="104" width="32" height="8" fill="#e85a10"/>
<rect x="56" y="104" width="8" height="8" fill="#dcc40c"/>
<rect x="64" y="104" width="8" height="8" fill="#98d810"/>
<rect x="72" y="104" width="24" height="8" fill="#14d42c"/>
<rect x="96" y="104" width="32" height="8" fill="#14b6dc"/>
<rect x="0" y="112" width="16" height="8" fill="#14d42c"/>
<rect x="16" y="112" width="16" height="8" fill="#98d810"/>
<rect x="32" y="112" width="8" height="8" fill="#dcc40c"/>
<rect x="40" y="112" width="8" height="8" fill="#98d810"/>
<rect x="48" y="112" width="8" height="8" fill="#dcc40c"/>
<rect x="56" y="112" width="8" height="8" fill="#98d810"/>
<rect x="64" y="112" width="24" height="8" fill="#14d42c"/>
<rect x="88" y="112" width="8" height="8" fill="#0cdc96"/>
<rect x="96" y="112" width="32" height="8" fill="#14b6dc"/>
<rect x="0" y="120" width="24" height="8" fill="#14d42c"/>
<rect x="24" y="120" width="40" height="8" fill="#98d810"/>
<rect x="64" y="120" width="24" height="8" fill="#14d42c"/>
<rect x="88" y="120" width="8" height="8" fill="#0cdc96"/>
<rect x="96" y="120" width="32" height="8" fill="#14b6dc"/>
</g>
<clipPath id="tc4"><path d="M0 0H128V13.00L0 28.00Z"/></clipPath>
<clipPath id="fc4"><path d="M0 28.00L128 13.00V128H0Z"/></clipPath>
<rect x="0" y="0" width="128" height="128" fill="#40fff8" fill-opacity="0.28" clip-path="url(#tc4)"/>
<g stroke="#003048" stroke-opacity="0.5" stroke-width="0.7" fill="none">
<path d="M4.20 26.51V128M10.69 25.75V128M17.18 24.99V128M23.67 24.23V128M30.16 23.47V128M36.65 22.71V128M43.14 21.94V128M49.63 21.18V128M56.12 20.42V128M62.61 19.66V128M69.10 18.90V128M75.59 18.14V128M82.08 17.38V128M88.57 16.62V128M95.06 15.86V128M101.55 15.10V128M108.04 14.34V128M114.53 13.58V128M121.02 12.82V128M127.51 12.06V128M0 29.50L128 14.00M0 35.40L128 20.50M0 41.30L128 27.00M0 47.20L128 33.50M0 53.10L128 40.00M0 59.00L128 46.50M0 64.90L128 53.00M0 70.80L128 59.50M0 76.70L128 66.00M0 82.60L128 72.50M0 88.50L128 79.00M0 94.40L128 85.50M0 100.30L128 92.00M0 106.20L128 98.50M0 112.10L128 105.00M0 118.00L128 111.50M0 123.90L128 118.00M0 129.80L128 124.50" clip-path="url(#fc4)"/>
<path d="M0 25.25L128 11.72M0 22.50L128 10.45M0 19.75L128 9.17M0 17.00L128 7.89M0 14.25L128 6.62M0 11.50L128 5.34M0 8.75L128 4.06M0 6.00L128 2.79M0 3.25L128 1.51M0 0.50L128 0.23M-80.00 37.38L-150.00 2.38M-72.50 36.50L-142.50 1.50M-65.00 35.62L-135.00 0.62M-57.50 34.74L-127.50 -0.26M-50.00 33.86L-120.00 -1.14M-42.50 32.98L-112.50 -2.02M-35.00 32.10L-105.00 -2.90M-27.50 31.22L-97.50 -3.78M-20.00 30.34L-90.00 -4.66M-12.50 29.46L-82.50 -5.54M-5.00 28.59L-75.00 -6.41M2.50 27.71L-67.50 -7.29M10.00 26.83L-60.00 -8.17M17.50 25.95L-52.50 -9.05M25.00 25.07L-45.00 -9.93M32.50 24.19L-37.50 -10.81M40.00 23.31L-30.00 -11.69M47.50 22.43L-22.50 -12.57M55.00 21.55L-15.00 -13.45M62.50 20.68L-7.50 -14.32M70.00 19.80L0.00 -15.20M77.50 18.92L7.50 -16.08M85.00 18.04L15.00 -16.96M92.50 17.16L22.50 -17.84M100.00 16.28L30.00 -18.72M107.50 15.40L37.50 -19.60M115.00 14.52L45.00 -20.48M122.50 13.64L52.50 -21.36M130.00 12.77L60.00 -22.23M137.50 11.89L67.50 -23.11M145.00 11.01L75.00 -23.99M152.50 10.13L82.50 -24.87M160.00 9.25L90.00 -25.75M167.50 8.37L97.50 -26.63" clip-path="url(#tc4)" stroke-opacity="0.6" stroke-width="0.55"/>
</g>
<path d="M67.3 13.6 L94.3 26.4 Q103.3 30.7 98.2 39.3 L71.1 84.4 Q66.0 93.0 57.4 87.9 L32.1 73.1 Q23.5 68.0 28.6 59.4 L53.2 17.9 Q58.3 9.3 67.3 13.6 Z" fill="none" stroke="#fff" stroke-width="2" stroke-dasharray="7.5 5.5"/>
<rect x="95.5" y="72.9" width="32.0" height="55.1" fill="#fff"/>
<text x="97.0" y="76.5" class="lt">Effective Stress (v-m)</text>
<text x="120.5" y="82.1" class="lv">1.1150e-04</text>
<text x="120.5" y="86.5" class="lv">1.0085e-04</text>
<text x="120.5" y="90.9" class="lv">8.8472e-05</text>
<text x="120.5" y="95.3" class="lv">8.2125e-05</text>
<text x="120.5" y="99.7" class="lv">7.0862e-05</text>
<text x="120.5" y="104.1" class="lv">5.8844e-05</text>
<text x="120.5" y="108.5" class="lv">4.7503e-05</text>
<text x="120.5" y="112.9" class="lv">3.5626e-05</text>
<text x="120.5" y="117.3" class="lv">2.3766e-05</text>
<text x="120.5" y="121.7" class="lv">1.1845e-05</text>
<text x="120.5" y="126.1" class="lv">3.6054e-08</text>
<rect x="122.2" y="80.90" width="3.4" height="3.94" fill="#e8101a"/>
<rect x="122.2" y="84.74" width="3.4" height="3.94" fill="#f04a14"/>
<rect x="122.2" y="88.58" width="3.4" height="3.94" fill="#f08a10"/>
<rect x="122.2" y="92.43" width="3.4" height="3.94" fill="#f0c810"/>
<rect x="122.2" y="96.27" width="3.4" height="3.94" fill="#b8e010"/>
<rect x="122.2" y="100.11" width="3.4" height="3.94" fill="#58d820"/>
<rect x="122.2" y="103.95" width="3.4" height="3.94" fill="#20d050"/>
<rect x="122.2" y="107.79" width="3.4" height="3.94" fill="#18d8a0"/>
<rect x="122.2" y="111.63" width="3.4" height="3.94" fill="#18d0d8"/>
<rect x="122.2" y="115.47" width="3.4" height="3.94" fill="#1aa0e8"/>
<rect x="122.2" y="119.32" width="3.4" height="3.94" fill="#1a5ee8"/>
<rect x="122.2" y="123.16" width="3.4" height="3.94" fill="#0a20d0"/>
</svg>
<svg class="pn" style="left:142px;top:156px" width="128" height="128" viewBox="0 0 128 128">
<g filter="url(#bl)">
<rect x="0" y="0" width="64" height="8" fill="#0ce8e0"/>
<rect x="64" y="0" width="24" height="8" fill="#0cdc96"/>
<rect x="88" y="0" width="40" height="8" fill="#0ce8e0"/>
<rect x="0" y="8" width="8" height="8" fill="#0ce8e0"/>
<rect x="8" y="8" width="8" height="8" fill="#0c5ae2"/>
<rect x="16" y="8" width="16" height="8" fill="#0ce8e0"/>
<rect x="32" y="8" width="24" height="8" fill="#0cdc96"/>
<rect x="56" y="8" width="24" height="8" fill="#14b6dc"/>
<rect x="80" y="8" width="8" height="8" fill="#0a22d4"/>
<rect x="88" y="8" width="8" height="8" fill="#14b6dc"/>
<rect x="96" y="8" width="8" height="8" fill="#0cdc96"/>
<rect x="104" y="8" width="24" height="8" fill="#0c5ae2"/>
<rect x="0" y="16" width="8" height="8" fill="#0cdc96"/>
<rect x="8" y="16" width="8" height="8" fill="#0c5ae2"/>
<rect x="16" y="16" width="32" height="8" fill="#0a22d4"/>
<rect x="48" y="16" width="8" height="8" fill="#0cdc96"/>
<rect x="56" y="16" width="32" height="8" fill="#14b6dc"/>
<rect x="88" y="16" width="8" height="8" fill="#0cdc96"/>
<rect x="96" y="16" width="16" height="8" fill="#0a22d4"/>
<rect x="112" y="16" width="16" height="8" fill="#0c5ae2"/>
<rect x="0" y="24" width="8" height="8" fill="#14b6dc"/>
<rect x="8" y="24" width="8" height="8" fill="#0c5ae2"/>
<rect x="16" y="24" width="16" height="8" fill="#0a22d4"/>
<rect x="32" y="24" width="8" height="8" fill="#14b6dc"/>
<rect x="40" y="24" width="16" height="8" fill="#0cdc96"/>
<rect x="56" y="24" width="16" height="8" fill="#14b6dc"/>
<rect x="72" y="24" width="32" height="8" fill="#0cdc96"/>
<rect x="104" y="24" width="16" height="8" fill="#14b6dc"/>
<rect x="120" y="24" width="8" height="8" fill="#0c5ae2"/>
<rect x="0" y="32" width="16" height="8" fill="#14b6dc"/>
<rect x="16" y="32" width="16" height="8" fill="#0c5ae2"/>
<rect x="32" y="32" width="8" height="8" fill="#14b6dc"/>
<rect x="40" y="32" width="8" height="8" fill="#14d42c"/>
<rect x="48" y="32" width="32" height="8" fill="#0cdc96"/>
<rect x="80" y="32" width="8" height="8" fill="#14b6dc"/>
<rect x="88" y="32" width="16" height="8" fill="#0cdc96"/>
<rect x="104" y="32" width="16" height="8" fill="#14b6dc"/>
<rect x="120" y="32" width="8" height="8" fill="#0c5ae2"/>
<rect x="0" y="40" width="8" height="8" fill="#14b6dc"/>
<rect x="8" y="40" width="16" height="8" fill="#0c5ae2"/>
<rect x="24" y="40" width="8" height="8" fill="#14b6dc"/>
<rect x="32" y="40" width="8" height="8" fill="#0cdc96"/>
<rect x="40" y="40" width="8" height="8" fill="#14d42c"/>
<rect x="48" y="40" width="32" height="8" fill="#0cdc96"/>
<rect x="80" y="40" width="8" height="8" fill="#14b6dc"/>
<rect x="88" y="40" width="16" height="8" fill="#0cdc96"/>
<rect x="104" y="40" width="16" height="8" fill="#14b6dc"/>
<rect x="120" y="40" width="8" height="8" fill="#0c5ae2"/>
<rect x="0" y="48" width="8" height="8" fill="#0cdc96"/>
<rect x="8" y="48" width="8" height="8" fill="#0c5ae2"/>
<rect x="16" y="48" width="8" height="8" fill="#14b6dc"/>
<rect x="24" y="48" width="32" height="8" fill="#14d42c"/>
<rect x="56" y="48" width="8" height="8" fill="#0cdc96"/>
<rect x="64" y="48" width="8" height="8" fill="#14d42c"/>
<rect x="72" y="48" width="8" height="8" fill="#0cdc96"/>
<rect x="80" y="48" width="8" height="8" fill="#14b6dc"/>
<rect x="88" y="48" width="24" height="8" fill="#0cdc96"/>
<rect x="112" y="48" width="8" height="8" fill="#14b6dc"/>
<rect x="120" y="48" width="8" height="8" fill="#0c5ae2"/>
<rect x="0" y="56" width="8" height="8" fill="#14d42c"/>
<rect x="8" y="56" width="8" height="8" fill="#98d810"/>
<rect x="16" y="56" width="64" height="8" fill="#14d42c"/>
<rect x="80" y="56" width="8" height="8" fill="#14b6dc"/>
<rect x="88" y="56" width="8" height="8" fill="#14d42c"/>
<rect x="96" y="56" width="16" height="8" fill="#0cdc96"/>
<rect x="112" y="56" width="8" height="8" fill="#14b6dc"/>
<rect x="120" y="56" width="8" height="8" fill="#0c5ae2"/>
<rect x="0" y="64" width="8" height="8" fill="#98d810"/>
<rect x="8" y="64" width="8" height="8" fill="#ee6e12"/>
<rect x="16" y="64" width="16" height="8" fill="#98d810"/>
<rect x="32" y="64" width="16" height="8" fill="#14d42c"/>
<rect x="48" y="64" width="8" height="8" fill="#98d810"/>
<rect x="56" y="64" width="40" height="8" fill="#14d42c"/>
<rect x="96" y="64" width="16" height="8" fill="#0cdc96"/>
<rect x="112" y="64" width="8" height="8" fill="#14b6dc"/>
<rect x="120" y="64" width="8" height="8" fill="#0c5ae2"/>
<rect x="0" y="72" width="8" height="8" fill="#98d810"/>
<rect x="8" y="72" width="8" height="8" fill="#ee6e12"/>
<rect x="16" y="72" width="24" height="8" fill="#dcc40c"/>
<rect x="40" y="72" width="16" height="8" fill="#98d810"/>
<rect x="56" y="72" width="24" height="8" fill="#14d42c"/>
<rect x="80" y="72" width="8" height="8" fill="#0cdc96"/>
<rect x="88" y="72" width="8" height="8" fill="#0c5ae2"/>
<rect x="96" y="72" width="32" height="8" fill="#14b6dc"/>
<rect x="0" y="80" width="8" height="8" fill="#98d810"/>
<rect x="8" y="80" width="8" height="8" fill="#ee6e12"/>
<rect x="16" y="80" width="16" height="8" fill="#dcc40c"/>
<rect x="32" y="80" width="24" height="8" fill="#98d810"/>
<rect x="56" y="80" width="24" height="8" fill="#14d42c"/>
<rect x="80" y="80" width="8" height="8" fill="#0cdc96"/>
<rect x="88" y="80" width="8" height="8" fill="#0c5ae2"/>
<rect x="96" y="80" width="32" height="8" fill="#14b6dc"/>
<rect x="0" y="88" width="48" height="8" fill="#98d810"/>
<rect x="48" y="88" width="32" height="8" fill="#14d42c"/>
<rect x="80" y="88" width="8" height="8" fill="#0cdc96"/>
<rect x="88" y="88" width="40" height="8" fill="#14b6dc"/>
<rect x="0" y="96" width="8" height="8" fill="#14d42c"/>
<rect x="8" y="96" width="32" height="8" fill="#98d810"/>
<rect x="40" y="96" width="40" height="8" fill="#14d42c"/>
<rect x="80" y="96" width="8" height="8" fill="#0cdc96"/>
<rect x="88" y="96" width="40" height="8" fill="#14b6dc"/>
<rect x="0" y="104" width="16" height="8" fill="#14d42c"/>
<rect x="16" y="104" width="16" height="8" fill="#98d810"/>
<rect x="32" y="104" width="48" height="8" fill="#14d42c"/>
<rect x="80" y="104" width="8" height="8" fill="#0cdc96"/>
<rect x="88" y="104" width="40" height="8" fill="#14b6dc"/>
<rect x="0" y="112" width="72" height="8" fill="#14d42c"/>
<rect x="72" y="112" width="16" height="8" fill="#0cdc96"/>
<rect x="88" y="112" width="40" height="8" fill="#14b6dc"/>
<rect x="0" y="120" width="64" height="8" fill="#14d42c"/>
<rect x="64" y="120" width="16" height="8" fill="#0cdc96"/>
<rect x="80" y="120" width="48" height="8" fill="#14b6dc"/>
</g>
<clipPath id="tc5"><path d="M0 0H128V9.00L0 30.00Z"/></clipPath>
<clipPath id="fc5"><path d="M0 30.00L128 9.00V128H0Z"/></clipPath>
<rect x="0" y="0" width="128" height="128" fill="#40fff8" fill-opacity="0.28" clip-path="url(#tc5)"/>
<g stroke="#003048" stroke-opacity="0.5" stroke-width="0.7" fill="none">
<path d="M4.20 28.31V128M10.69 27.25V128M17.18 26.18V128M23.67 25.12V128M30.16 24.05V128M36.65 22.99V128M43.14 21.92V128M49.63 20.86V128M56.12 19.79V128M62.61 18.73V128M69.10 17.66V128M75.59 16.60V128M82.08 15.53V128M88.57 14.47V128M95.06 13.40V128M101.55 12.34V128M108.04 11.27V128M114.53 10.21V128M121.02 9.15V128M127.51 8.08V128M0 31.50L128 10.00M0 37.40L128 16.50M0 43.30L128 23.00M0 49.20L128 29.50M0 55.10L128 36.00M0 61.00L128 42.50M0 66.90L128 49.00M0 72.80L128 55.50M0 78.70L128 62.00M0 84.60L128 68.50M0 90.50L128 75.00M0 96.40L128 81.50M0 102.30L128 88.00M0 108.20L128 94.50M0 114.10L128 101.00M0 120.00L128 107.50M0 125.90L128 114.00M0 131.80L128 120.50M0 137.70L128 127.00" clip-path="url(#fc5)"/>
<path d="M0 27.25L128 8.18M0 24.50L128 7.35M0 21.75L128 6.53M0 19.00L128 5.70M0 16.25L128 4.88M0 13.50L128 4.05M0 10.75L128 3.23M0 8.00L128 2.40M0 5.25L128 1.58M0 2.50L128 0.75M0 -0.25L128 -0.07M0 -3.00L128 -0.90M-80.00 43.12L-150.00 8.12M-72.50 41.89L-142.50 6.89M-65.00 40.66L-135.00 5.66M-57.50 39.43L-127.50 4.43M-50.00 38.20L-120.00 3.20M-42.50 36.97L-112.50 1.97M-35.00 35.74L-105.00 0.74M-27.50 34.51L-97.50 -0.49M-20.00 33.28L-90.00 -1.72M-12.50 32.05L-82.50 -2.95M-5.00 30.82L-75.00 -4.18M2.50 29.59L-67.50 -5.41M10.00 28.36L-60.00 -6.64M17.50 27.13L-52.50 -7.87M25.00 25.90L-45.00 -9.10M32.50 24.67L-37.50 -10.33M40.00 23.44L-30.00 -11.56M47.50 22.21L-22.50 -12.79M55.00 20.98L-15.00 -14.02M62.50 19.75L-7.50 -15.25M70.00 18.52L0.00 -16.48M77.50 17.29L7.50 -17.71M85.00 16.05L15.00 -18.95M92.50 14.82L22.50 -20.18M100.00 13.59L30.00 -21.41M107.50 12.36L37.50 -22.64M115.00 11.13L45.00 -23.87M122.50 9.90L52.50 -25.10M130.00 8.67L60.00 -26.33M137.50 7.44L67.50 -27.56M145.00 6.21L75.00 -28.79M152.50 4.98L82.50 -30.02M160.00 3.75L90.00 -31.25M167.50 2.52L97.50 -32.48" clip-path="url(#tc5)" stroke-opacity="0.6" stroke-width="0.55"/>
</g>
<path d="M83.8 -0.0 L102.3 18.5 Q109.4 25.6 102.3 32.6 L54.4 80.1 Q47.3 87.1 40.3 80.0 L20.8 60.4 Q13.8 53.3 21.0 46.4 L69.5 -0.2 Q76.7 -7.1 83.8 -0.0 Z" fill="none" stroke="#fff" stroke-width="2" stroke-dasharray="7.5 5.5"/>
<rect x="96.2" y="73.5" width="31.8" height="54.5" fill="#fff"/>
<text x="97.7" y="77.1" class="lt">Effective Stress (v-m)</text>
<text x="121.2" y="82.7" class="lv">1.2206e-04</text>
<text x="121.2" y="87.1" class="lv">1.1107e-04</text>
<text x="121.2" y="91.5" class="lv">9.9804e-05</text>
<text x="121.2" y="95.9" class="lv">8.8665e-05</text>
<text x="121.2" y="100.3" class="lv">7.7655e-05</text>
<text x="121.2" y="104.7" class="lv">6.6704e-05</text>
<text x="121.2" y="109.1" class="lv">5.5462e-05</text>
<text x="121.2" y="113.5" class="lv">4.4383e-05</text>
<text x="121.2" y="117.9" class="lv">3.3363e-05</text>
<text x="121.2" y="122.3" class="lv">2.2305e-05</text>
<text x="121.2" y="126.7" class="lv">1.0218e-05</text>
<rect x="122.9" y="81.50" width="3.4" height="3.89" fill="#e8101a"/>
<rect x="122.9" y="85.29" width="3.4" height="3.89" fill="#f04a14"/>
<rect x="122.9" y="89.08" width="3.4" height="3.89" fill="#f08a10"/>
<rect x="122.9" y="92.88" width="3.4" height="3.89" fill="#f0c810"/>
<rect x="122.9" y="96.67" width="3.4" height="3.89" fill="#b8e010"/>
<rect x="122.9" y="100.46" width="3.4" height="3.89" fill="#58d820"/>
<rect x="122.9" y="104.25" width="3.4" height="3.89" fill="#20d050"/>
<rect x="122.9" y="108.04" width="3.4" height="3.89" fill="#18d8a0"/>
<rect x="122.9" y="111.83" width="3.4" height="3.89" fill="#18d0d8"/>
<rect x="122.9" y="115.62" width="3.4" height="3.89" fill="#1aa0e8"/>
<rect x="122.9" y="119.42" width="3.4" height="3.89" fill="#1a5ee8"/>
<rect x="122.9" y="123.21" width="3.4" height="3.89" fill="#0a20d0"/>
</svg>
<svg class="pn" style="left:279px;top:156px" width="128" height="128" viewBox="0 0 128 128">
<g filter="url(#bl)">
<rect x="0" y="0" width="16" height="8" fill="#0ce8e0"/>
<rect x="16" y="0" width="24" height="8" fill="#0c8ee4"/>
<rect x="40" y="0" width="32" height="8" fill="#0ce8e0"/>
<rect x="72" y="0" width="8" height="8" fill="#0cdc96"/>
<rect x="80" y="0" width="48" height="8" fill="#0ce8e0"/>
<rect x="0" y="8" width="8" height="8" fill="#0c8ee4"/>
<rect x="8" y="8" width="24" height="8" fill="#0c5ae2"/>
<rect x="32" y="8" width="8" height="8" fill="#0a22d4"/>
<rect x="40" y="8" width="8" height="8" fill="#0c5ae2"/>
<rect x="48" y="8" width="16" height="8" fill="#0ce8e0"/>
<rect x="64" y="8" width="8" height="8" fill="#0c5ae2"/>
<rect x="72" y="8" width="16" height="8" fill="#14b6dc"/>
<rect x="88" y="8" width="8" height="8" fill="#0c5ae2"/>
<rect x="96" y="8" width="16" height="8" fill="#14b6dc"/>
<rect x="112" y="8" width="8" height="8" fill="#0c5ae2"/>
<rect x="120" y="8" width="8" height="8" fill="#0ce8e0"/>
<rect x="0" y="16" width="8" height="8" fill="#0c8ee4"/>
<rect x="8" y="16" width="24" height="8" fill="#0c5ae2"/>
<rect x="32" y="16" width="8" height="8" fill="#0a22d4"/>
<rect x="40" y="16" width="40" height="8" fill="#0c5ae2"/>
<rect x="80" y="16" width="16" height="8" fill="#14b6dc"/>
<rect x="96" y="16" width="8" height="8" fill="#0c5ae2"/>
<rect x="104" y="16" width="8" height="8" fill="#14b6dc"/>
<rect x="112" y="16" width="8" height="8" fill="#0c5ae2"/>
<rect x="120" y="16" width="8" height="8" fill="#14b6dc"/>
<rect x="0" y="24" width="40" height="8" fill="#0c5ae2"/>
<rect x="40" y="24" width="24" height="8" fill="#14b6dc"/>
<rect x="64" y="24" width="8" height="8" fill="#0cdc96"/>
<rect x="72" y="24" width="16" height="8" fill="#14b6dc"/>
<rect x="88" y="24" width="8" height="8" fill="#0c5ae2"/>
<rect x="96" y="24" width="8" height="8" fill="#14b6dc"/>
<rect x="104" y="24" width="8" height="8" fill="#0c5ae2"/>
<rect x="112" y="24" width="16" height="8" fill="#14b6dc"/>
<rect x="0" y="32" width="24" height="8" fill="#0c5ae2"/>
<rect x="24" y="32" width="8" height="8" fill="#14b6dc"/>
<rect x="32" y="32" width="24" height="8" fill="#0cdc96"/>
<rect x="56" y="32" width="8" height="8" fill="#14b6dc"/>
<rect x="64" y="32" width="8" height="8" fill="#0c5ae2"/>
<rect x="72" y="32" width="56" height="8" fill="#14b6dc"/>
<rect x="0" y="40" width="8" height="8" fill="#0cdc96"/>
<rect x="8" y="40" width="8" height="8" fill="#14d42c"/>
<rect x="16" y="40" width="48" height="8" fill="#0cdc96"/>
<rect x="64" y="40" width="16" height="8" fill="#14b6dc"/>
<rect x="80" y="40" width="8" height="8" fill="#0cdc96"/>
<rect x="88" y="40" width="8" height="8" fill="#0c5ae2"/>
<rect x="96" y="40" width="32" height="8" fill="#14b6dc"/>
<rect x="0" y="48" width="48" height="8" fill="#14d42c"/>
<rect x="48" y="48" width="8" height="8" fill="#0cdc96"/>
<rect x="56" y="48" width="8" height="8" fill="#14d42c"/>
<rect x="64" y="48" width="8" height="8" fill="#0cdc96"/>
<rect x="72" y="48" width="40" height="8" fill="#14b6dc"/>
<rect x="112" y="48" width="16" height="8" fill="#0c8ee4"/>
<rect x="0" y="56" width="8" height="8" fill="#98d810"/>
<rect x="8" y="56" width="56" height="8" fill="#14d42c"/>
<rect x="64" y="56" width="8" height="8" fill="#98d810"/>
<rect x="72" y="56" width="32" height="8" fill="#14b6dc"/>
<rect x="104" y="56" width="8" height="8" fill="#0c8ee4"/>
<rect x="112" y="56" width="16" height="8" fill="#0c5ae2"/>
<rect x="0" y="64" width="8" height="8" fill="#ee6e12"/>
<rect x="8" y="64" width="8" height="8" fill="#dcc40c"/>
<rect x="16" y="64" width="8" height="8" fill="#ee6e12"/>
<rect x="24" y="64" width="16" height="8" fill="#dcc40c"/>
<rect x="40" y="64" width="16" height="8" fill="#98d810"/>
<rect x="56" y="64" width="8" height="8" fill="#14d42c"/>
<rect x="64" y="64" width="8" height="8" fill="#98d810"/>
<rect x="72" y="64" width="8" height="8" fill="#0cdc96"/>
<rect x="80" y="64" width="24" height="8" fill="#14b6dc"/>
<rect x="104" y="64" width="8" height="8" fill="#0c8ee4"/>
<rect x="112" y="64" width="16" height="8" fill="#0c5ae2"/>
<rect x="0" y="72" width="8" height="8" fill="#e85a10"/>
<rect x="8" y="72" width="16" height="8" fill="#ee6e12"/>
<rect x="24" y="72" width="8" height="8" fill="#dcc40c"/>
<rect x="32" y="72" width="16" height="8" fill="#98d810"/>
<rect x="48" y="72" width="16" height="8" fill="#14d42c"/>
<rect x="64" y="72" width="8" height="8" fill="#98d810"/>
<rect x="72" y="72" width="8" height="8" fill="#0cdc96"/>
<rect x="80" y="72" width="48" height="8" fill="#14b6dc"/>
<rect x="0" y="80" width="8" height="8" fill="#e85a10"/>
<rect x="8" y="80" width="8" height="8" fill="#ee6e12"/>
<rect x="16" y="80" width="16" height="8" fill="#dcc40c"/>
<rect x="32" y="80" width="16" height="8" fill="#98d810"/>
<rect x="48" y="80" width="24" height="8" fill="#14d42c"/>
<rect x="72" y="80" width="8" height="8" fill="#0cdc96"/>
<rect x="80" y="80" width="48" height="8" fill="#14b6dc"/>
<rect x="0" y="88" width="8" height="8" fill="#14d42c"/>
<rect x="8" y="88" width="24" height="8" fill="#98d810"/>
<rect x="32" y="88" width="32" height="8" fill="#14d42c"/>
<rect x="64" y="88" width="8" height="8" fill="#0cdc96"/>
<rect x="72" y="88" width="56" height="8" fill="#14b6dc"/>
<rect x="0" y="96" width="64" height="8" fill="#14d42c"/>
<rect x="64" y="96" width="16" height="8" fill="#0cdc96"/>
<rect x="80" y="96" width="48" height="8" fill="#14b6dc"/>
<rect x="0" y="104" width="72" height="8" fill="#14d42c"/>
<rect x="72" y="104" width="16" height="8" fill="#0cdc96"/>
<rect x="88" y="104" width="40" height="8" fill="#14b6dc"/>
<rect x="0" y="112" width="16" height="8" fill="#0cdc96"/>
<rect x="16" y="112" width="56" height="8" fill="#14d42c"/>
<rect x="72" y="112" width="24" height="8" fill="#0cdc96"/>
<rect x="96" y="112" width="32" height="8" fill="#14b6dc"/>
<rect x="0" y="120" width="40" height="8" fill="#0cdc96"/>
<rect x="40" y="120" width="16" height="8" fill="#14d42c"/>
<rect x="56" y="120" width="16" height="8" fill="#0cdc96"/>
<rect x="72" y="120" width="8" height="8" fill="#14d42c"/>
<rect x="80" y="120" width="16" height="8" fill="#0cdc96"/>
<rect x="96" y="120" width="32" height="8" fill="#14b6dc"/>
</g>
<clipPath id="tc6"><path d="M0 0H128V10.00L0 31.00Z"/></clipPath>
<clipPath id="fc6"><path d="M0 31.00L128 10.00V128H0Z"/></clipPath>
<rect x="0" y="0" width="128" height="128" fill="#40fff8" fill-opacity="0.28" clip-path="url(#tc6)"/>
<g stroke="#003048" stroke-opacity="0.5" stroke-width="0.7" fill="none">
<path d="M4.20 29.31V128M10.69 28.25V128M17.18 27.18V128M23.67 26.12V128M30.16 25.05V128M36.65 23.99V128M43.14 22.92V128M49.63 21.86V128M56.12 20.79V128M62.61 19.73V128M69.10 18.66V128M75.59 17.60V128M82.08 16.53V128M88.57 15.47V128M95.06 14.40V128M101.55 13.34V128M108.04 12.27V128M114.53 11.21V128M121.02 10.15V128M127.51 9.08V128M0 32.50L128 11.00M0 38.40L128 17.50M0 44.30L128 24.00M0 50.20L128 30.50M0 56.10L128 37.00M0 62.00L128 43.50M0 67.90L128 50.00M0 73.80L128 56.50M0 79.70L128 63.00M0 85.60L128 69.50M0 91.50L128 76.00M0 97.40L128 82.50M0 103.30L128 89.00M0 109.20L128 95.50M0 115.10L128 102.00M0 121.00L128 108.50M0 126.90L128 115.00M0 132.80L128 121.50M0 138.70L128 128.00" clip-path="url(#fc6)"/>
<path d="M0 28.25L128 9.11M0 25.50L128 8.23M0 22.75L128 7.34M0 20.00L128 6.45M0 17.25L128 5.56M0 14.50L128 4.68M0 11.75L128 3.79M0 9.00L128 2.90M0 6.25L128 2.02M0 3.50L128 1.13M0 0.75L128 0.24M0 -2.00L128 -0.65M-80.00 44.12L-150.00 9.12M-72.50 42.89L-142.50 7.89M-65.00 41.66L-135.00 6.66M-57.50 40.43L-127.50 5.43M-50.00 39.20L-120.00 4.20M-42.50 37.97L-112.50 2.97M-35.00 36.74L-105.00 1.74M-27.50 35.51L-97.50 0.51M-20.00 34.28L-90.00 -0.72M-12.50 33.05L-82.50 -1.95M-5.00 31.82L-75.00 -3.18M2.50 30.59L-67.50 -4.41M10.00 29.36L-60.00 -5.64M17.50 28.13L-52.50 -6.87M25.00 26.90L-45.00 -8.10M32.50 25.67L-37.50 -9.33M40.00 24.44L-30.00 -10.56M47.50 23.21L-22.50 -11.79M55.00 21.98L-15.00 -13.02M62.50 20.75L-7.50 -14.25M70.00 19.52L0.00 -15.48M77.50 18.29L7.50 -16.71M85.00 17.05L15.00 -17.95M92.50 15.82L22.50 -19.18M100.00 14.59L30.00 -20.41M107.50 13.36L37.50 -21.64M115.00 12.13L45.00 -22.87M122.50 10.90L52.50 -24.10M130.00 9.67L60.00 -25.33M137.50 8.44L67.50 -26.56M145.00 7.21L75.00 -27.79M152.50 5.98L82.50 -29.02M160.00 4.75L90.00 -30.25M167.50 3.52L97.50 -31.48" clip-path="url(#tc6)" stroke-opacity="0.6" stroke-width="0.55"/>
</g>
<path d="M90.2 8.4 L103.2 29.5 Q107.9 37.2 100.2 41.9 L45.0 75.2 Q37.3 79.9 32.4 72.3 L16.2 47.3 Q11.3 39.7 19.3 35.5 L77.5 4.9 Q85.5 0.7 90.2 8.4 Z" fill="none" stroke="#fff" stroke-width="2" stroke-dasharray="7.5 5.5"/>
<rect x="97.0" y="73.5" width="31.0" height="54.5" fill="#fff"/>
<text x="98.5" y="77.1" class="lt">Effective Stress (v-m)</text>
<text x="122.0" y="82.7" class="lv">1.1986e-04</text>
<text x="122.0" y="87.1" class="lv">1.0779e-04</text>
<text x="122.0" y="91.5" class="lv">9.5846e-05</text>
<text x="122.0" y="95.9" class="lv">8.3876e-05</text>
<text x="122.0" y="100.3" class="lv">7.1713e-05</text>
<text x="122.0" y="104.7" class="lv">5.9946e-05</text>
<text x="122.0" y="109.1" class="lv">4.7504e-05</text>
<text x="122.0" y="113.5" class="lv">3.5938e-05</text>
<text x="122.0" y="117.9" class="lv">2.3777e-05</text>
<text x="122.0" y="122.3" class="lv">1.1998e-05</text>
<text x="122.0" y="126.7" class="lv">3.7783e-08</text>
<rect x="123.7" y="81.50" width="3.4" height="3.89" fill="#e8101a"/>
<rect x="123.7" y="85.29" width="3.4" height="3.89" fill="#f04a14"/>
<rect x="123.7" y="89.08" width="3.4" height="3.89" fill="#f08a10"/>
<rect x="123.7" y="92.88" width="3.4" height="3.89" fill="#f0c810"/>
<rect x="123.7" y="96.67" width="3.4" height="3.89" fill="#b8e010"/>
<rect x="123.7" y="100.46" width="3.4" height="3.89" fill="#58d820"/>
<rect x="123.7" y="104.25" width="3.4" height="3.89" fill="#20d050"/>
<rect x="123.7" y="108.04" width="3.4" height="3.89" fill="#18d8a0"/>
<rect x="123.7" y="111.83" width="3.4" height="3.89" fill="#18d0d8"/>
<rect x="123.7" y="115.62" width="3.4" height="3.89" fill="#1aa0e8"/>
<rect x="123.7" y="119.42" width="3.4" height="3.89" fill="#1a5ee8"/>
<rect x="123.7" y="123.21" width="3.4" height="3.89" fill="#0a20d0"/>
</svg>
<svg class="pn" style="left:416px;top:156px" width="128" height="128" viewBox="0 0 128 128">
<g filter="url(#bl)">
<rect x="0" y="0" width="32" height="8" fill="#0c8ee4"/>
<rect x="32" y="0" width="16" height="8" fill="#14b6dc"/>
<rect x="48" y="0" width="16" height="8" fill="#0ce8e0"/>
<rect x="64" y="0" width="24" height="8" fill="#0cdc96"/>
<rect x="88" y="0" width="8" height="8" fill="#0ce8e0"/>
<rect x="96" y="0" width="8" height="8" fill="#0cdc96"/>
<rect x="104" y="0" width="24" height="8" fill="#0ce8e0"/>
<rect x="0" y="8" width="16" height="8" fill="#0c5ae2"/>
<rect x="16" y="8" width="8" height="8" fill="#0c8ee4"/>
<rect x="24" y="8" width="104" height="8" fill="#0ce8e0"/>
<rect x="0" y="16" width="16" height="8" fill="#0c5ae2"/>
<rect x="16" y="16" width="16" height="8" fill="#0a22d4"/>
<rect x="32" y="16" width="8" height="8" fill="#0c8ee4"/>
<rect x="40" y="16" width="16" height="8" fill="#14b6dc"/>
<rect x="56" y="16" width="8" height="8" fill="#0c5ae2"/>
<rect x="64" y="16" width="64" height="8" fill="#14b6dc"/>
<rect x="0" y="24" width="16" height="8" fill="#0c5ae2"/>
<rect x="16" y="24" width="8" height="8" fill="#0a22d4"/>
<rect x="24" y="24" width="8" height="8" fill="#0c5ae2"/>
<rect x="32" y="24" width="48" height="8" fill="#14b6dc"/>
<rect x="80" y="24" width="8" height="8" fill="#0cdc96"/>
<rect x="88" y="24" width="24" height="8" fill="#14b6dc"/>
<rect x="112" y="24" width="8" height="8" fill="#0cdc96"/>
<rect x="120" y="24" width="8" height="8" fill="#14b6dc"/>
<rect x="0" y="32" width="8" height="8" fill="#14b6dc"/>
<rect x="8" y="32" width="16" height="8" fill="#0a22d4"/>
<rect x="24" y="32" width="24" height="8" fill="#0cdc96"/>
<rect x="48" y="32" width="8" height="8" fill="#14b6dc"/>
<rect x="56" y="32" width="48" height="8" fill="#0cdc96"/>
<rect x="104" y="32" width="8" height="8" fill="#14d42c"/>
<rect x="112" y="32" width="8" height="8" fill="#0cdc96"/>
<rect x="120" y="32" width="8" height="8" fill="#14b6dc"/>
<rect x="0" y="40" width="48" height="8" fill="#14d42c"/>
<rect x="48" y="40" width="8" height="8" fill="#0cdc96"/>
<rect x="56" y="40" width="48" height="8" fill="#14d42c"/>
<rect x="104" y="40" width="16" height="8" fill="#0cdc96"/>
<rect x="120" y="40" width="8" height="8" fill="#0c5ae2"/>
<rect x="0" y="48" width="16" height="8" fill="#98d810"/>
<rect x="16" y="48" width="56" height="8" fill="#14d42c"/>
<rect x="72" y="48" width="24" height="8" fill="#0cdc96"/>
<rect x="96" y="48" width="24" height="8" fill="#14b6dc"/>
<rect x="120" y="48" width="8" height="8" fill="#0c5ae2"/>
<rect x="0" y="56" width="8" height="8" fill="#ee6e12"/>
<rect x="8" y="56" width="16" height="8" fill="#dcc40c"/>
<rect x="24" y="56" width="8" height="8" fill="#ee6e12"/>
<rect x="32" y="56" width="8" height="8" fill="#98d810"/>
<rect x="40" y="56" width="24" height="8" fill="#14d42c"/>
<rect x="64" y="56" width="8" height="8" fill="#98d810"/>
<rect x="72" y="56" width="8" height="8" fill="#14d42c"/>
<rect x="80" y="56" width="32" height="8" fill="#14b6dc"/>
<rect x="112" y="56" width="8" height="8" fill="#0c8ee4"/>
<rect x="120" y="56" width="8" height="8" fill="#0c5ae2"/>
<rect x="0" y="64" width="16" height="8" fill="#dcc40c"/>
<rect x="16" y="64" width="8" height="8" fill="#98d810"/>
<rect x="24" y="64" width="8" height="8" fill="#dcc40c"/>
<rect x="32" y="64" width="8" height="8" fill="#ee6e12"/>
<rect x="40" y="64" width="8" height="8" fill="#98d810"/>
<rect x="48" y="64" width="24" height="8" fill="#14d42c"/>
<rect x="72" y="64" width="8" height="8" fill="#0cdc96"/>
<rect x="80" y="64" width="24" height="8" fill="#14b6dc"/>
<rect x="104" y="64" width="8" height="8" fill="#0c8ee4"/>
<rect x="112" y="64" width="16" height="8" fill="#0c5ae2"/>
<rect x="0" y="72" width="8" height="8" fill="#14d42c"/>
<rect x="8" y="72" width="40" height="8" fill="#98d810"/>
<rect x="48" y="72" width="16" height="8" fill="#14d42c"/>
<rect x="64" y="72" width="8" height="8" fill="#0cdc96"/>
<rect x="72" y="72" width="56" height="8" fill="#14b6dc"/>
<rect x="0" y="80" width="64" height="8" fill="#14d42c"/>
<rect x="64" y="80" width="64" height="8" fill="#14b6dc"/>
<rect x="0" y="88" width="64" height="8" fill="#14d42c"/>
<rect x="64" y="88" width="8" height="8" fill="#14b6dc"/>
<rect x="72" y="88" width="8" height="8" fill="#0c8ee4"/>
<rect x="80" y="88" width="48" height="8" fill="#14b6dc"/>
<rect x="0" y="96" width="16" height="8" fill="#0cdc96"/>
<rect x="16" y="96" width="40" height="8" fill="#14d42c"/>
<rect x="56" y="96" width="8" height="8" fill="#0cdc96"/>
<rect x="64" y="96" width="64" height="8" fill="#14b6dc"/>
<rect x="0" y="104" width="64" height="8" fill="#0cdc96"/>
<rect x="64" y="104" width="24" height="8" fill="#14b6dc"/>
<rect x="88" y="104" width="8" height="8" fill="#0c8ee4"/>
<rect x="96" y="104" width="32" height="8" fill="#14b6dc"/>
<rect x="0" y="112" width="16" height="8" fill="#14b6dc"/>
<rect x="16" y="112" width="16" height="8" fill="#0cdc96"/>
<rect x="32" y="112" width="48" height="8" fill="#14b6dc"/>
<rect x="80" y="112" width="16" height="8" fill="#0c8ee4"/>
<rect x="96" y="112" width="32" height="8" fill="#14b6dc"/>
<rect x="0" y="120" width="72" height="8" fill="#14b6dc"/>
<rect x="72" y="120" width="16" height="8" fill="#0c8ee4"/>
<rect x="88" y="120" width="8" height="8" fill="#0c5ae2"/>
<rect x="96" y="120" width="32" height="8" fill="#14b6dc"/>
</g>
<clipPath id="tc7"><path d="M0 0H128V14.00L0 26.00Z"/></clipPath>
<clipPath id="fc7"><path d="M0 26.00L128 14.00V128H0Z"/></clipPath>
<rect x="0" y="0" width="128" height="128" fill="#40fff8" fill-opacity="0.28" clip-path="url(#tc7)"/>
<g stroke="#003048" stroke-opacity="0.5" stroke-width="0.7" fill="none">
<path d="M4.20 24.61V128M10.69 24.00V128M17.18 23.39V128M23.67 22.78V128M30.16 22.17V128M36.65 21.56V128M43.14 20.96V128M49.63 20.35V128M56.12 19.74V128M62.61 19.13V128M69.10 18.52V128M75.59 17.91V128M82.08 17.30V128M88.57 16.70V128M95.06 16.09V128M101.55 15.48V128M108.04 14.87V128M114.53 14.26V128M121.02 13.65V128M127.51 13.05V128M0 27.50L128 15.00M0 33.40L128 21.50M0 39.30L128 28.00M0 45.20L128 34.50M0 51.10L128 41.00M0 57.00L128 47.50M0 62.90L128 54.00M0 68.80L128 60.50M0 74.70L128 67.00M0 80.60L128 73.50M0 86.50L128 80.00M0 92.40L128 86.50M0 98.30L128 93.00M0 104.20L128 99.50M0 110.10L128 106.00M0 116.00L128 112.50M0 121.90L128 119.00M0 127.80L128 125.50" clip-path="url(#fc7)"/>
<path d="M0 23.25L128 12.52M0 20.50L128 11.04M0 17.75L128 9.56M0 15.00L128 8.08M0 12.25L128 6.60M0 9.50L128 5.12M0 6.75L128 3.63M0 4.00L128 2.15M0 1.25L128 0.67M0 -1.50L128 -0.81M-80.00 33.50L-150.00 -1.50M-72.50 32.80L-142.50 -2.20M-65.00 32.09L-135.00 -2.91M-57.50 31.39L-127.50 -3.61M-50.00 30.69L-120.00 -4.31M-42.50 29.98L-112.50 -5.02M-35.00 29.28L-105.00 -5.72M-27.50 28.58L-97.50 -6.42M-20.00 27.88L-90.00 -7.12M-12.50 27.17L-82.50 -7.83M-5.00 26.47L-75.00 -8.53M2.50 25.77L-67.50 -9.23M10.00 25.06L-60.00 -9.94M17.50 24.36L-52.50 -10.64M25.00 23.66L-45.00 -11.34M32.50 22.95L-37.50 -12.05M40.00 22.25L-30.00 -12.75M47.50 21.55L-22.50 -13.45M55.00 20.84L-15.00 -14.16M62.50 20.14L-7.50 -14.86M70.00 19.44L0.00 -15.56M77.50 18.73L7.50 -16.27M85.00 18.03L15.00 -16.97M92.50 17.33L22.50 -17.67M100.00 16.62L30.00 -18.38M107.50 15.92L37.50 -19.08M115.00 15.22L45.00 -19.78M122.50 14.52L52.50 -20.48M130.00 13.81L60.00 -21.19M137.50 13.11L67.50 -21.89M145.00 12.41L75.00 -22.59M152.50 11.70L82.50 -23.30M160.00 11.00L90.00 -24.00M167.50 10.30L97.50 -24.70" clip-path="url(#tc7)" stroke-opacity="0.6" stroke-width="0.55"/>
</g>
<path d="M22.4 25.4 L99.5 3.8 Q108.2 1.4 109.8 10.3 L113.9 32.9 Q115.5 41.8 106.8 44.1 L29.6 64.4 Q20.9 66.7 19.3 57.9 L15.3 36.6 Q13.7 27.8 22.4 25.4 Z" fill="none" stroke="#fff" stroke-width="2" stroke-dasharray="7.5 5.5"/>
<rect x="95.9" y="73.5" width="32.1" height="54.5" fill="#fff"/>
<text x="97.4" y="77.1" class="lt">Effective Stress (v-m)</text>
<text x="120.9" y="82.7" class="lv">1.1785e-04</text>
<text x="120.9" y="87.1" class="lv">1.0577e-04</text>
<text x="120.9" y="91.5" class="lv">9.3074e-05</text>
<text x="120.9" y="95.9" class="lv">8.2070e-05</text>
<text x="120.9" y="100.3" class="lv">7.1103e-05</text>
<text x="120.9" y="104.7" class="lv">5.9869e-05</text>
<text x="120.9" y="109.1" class="lv">4.7910e-05</text>
<text x="120.9" y="113.5" class="lv">3.5378e-05</text>
<text x="120.9" y="117.9" class="lv">2.3607e-05</text>
<text x="120.9" y="122.3" class="lv">1.1906e-05</text>
<text x="120.9" y="126.7" class="lv">2.5580e-08</text>
<rect x="122.6" y="81.50" width="3.4" height="3.89" fill="#e8101a"/>
<rect x="122.6" y="85.29" width="3.4" height="3.89" fill="#f04a14"/>
<rect x="122.6" y="89.08" width="3.4" height="3.89" fill="#f08a10"/>
<rect x="122.6" y="92.88" width="3.4" height="3.89" fill="#f0c810"/>
<rect x="122.6" y="96.67" width="3.4" height="3.89" fill="#b8e010"/>
<rect x="122.6" y="100.46" width="3.4" height="3.89" fill="#58d820"/>
<rect x="122.6" y="104.25" width="3.4" height="3.89" fill="#20d050"/>
<rect x="122.6" y="108.04" width="3.4" height="3.89" fill="#18d8a0"/>
<rect x="122.6" y="111.83" width="3.4" height="3.89" fill="#18d0d8"/>
<rect x="122.6" y="115.62" width="3.4" height="3.89" fill="#1aa0e8"/>
<rect x="122.6" y="119.42" width="3.4" height="3.89" fill="#1a5ee8"/>
<rect x="122.6" y="123.21" width="3.4" height="3.89" fill="#0a20d0"/>
</svg>
<div class="lab" style="left:37.6px;top:139.3px">0°</div>
<div class="lab" style="left:176.5px;top:139.3px">10°</div>
<div class="lab" style="left:316.1px;top:139.3px">20°</div>
<div class="lab" style="left:455.5px;top:139.3px">30°</div>
<div class="lab" style="left:35.9px;top:290.6px">40°</div>
<div class="lab" style="left:175.9px;top:290.6px">50°</div>
<div class="lab" style="left:315.5px;top:290.6px">60°</div>
<div class="lab" style="left:455.0px;top:290.6px">65°</div>
</body></html>
